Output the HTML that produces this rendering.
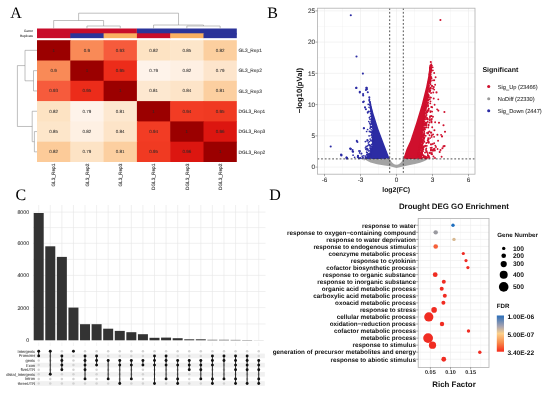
<!DOCTYPE html>
<html><head><meta charset="utf-8"><style>
html,body{margin:0;padding:0;background:#fff;}
body{width:550px;height:395px;overflow:hidden;font-family:"Liberation Sans",sans-serif;}
svg{display:block;will-change:transform;}
text{text-rendering:geometricPrecision;}
</style></head><body>
<svg width="550" height="395" viewBox="0 0 550 395">
<rect width="550" height="395" fill="#fff"/>
<text x="10.3" y="18.2" font-family="Liberation Serif" font-size="16" fill="#000" text-anchor="start" >A</text>
<text x="267.3" y="18.3" font-family="Liberation Serif" font-size="16" fill="#000" text-anchor="start" >B</text>
<text x="15.6" y="199.8" font-family="Liberation Serif" font-size="16" fill="#000" text-anchor="start" >C</text>
<text x="269.3" y="199.9" font-family="Liberation Serif" font-size="16" fill="#000" text-anchor="start" >D</text>
<rect x="37" y="40.2" width="33.9" height="20.9" fill="#9b0000" />
<rect x="70.3" y="40.2" width="33.9" height="20.9" fill="#f98a57" />
<rect x="103.6" y="40.2" width="33.9" height="20.9" fill="#f65b3c" />
<rect x="136.9" y="40.2" width="33.9" height="20.9" fill="#fde3c3" />
<rect x="170.2" y="40.2" width="33.9" height="20.9" fill="#fde6ca" />
<rect x="203.5" y="40.2" width="33.3" height="20.9" fill="#fccf9f" />
<rect x="37" y="60.5" width="33.9" height="20.9" fill="#f98a57" />
<rect x="70.3" y="60.5" width="33.9" height="20.9" fill="#9b0000" />
<rect x="103.6" y="60.5" width="33.9" height="20.9" fill="#ec2c1a" />
<rect x="136.9" y="60.5" width="33.9" height="20.9" fill="#fef3ea" />
<rect x="170.2" y="60.5" width="33.9" height="20.9" fill="#fef0e3" />
<rect x="203.5" y="60.5" width="33.3" height="20.9" fill="#fde5cc" />
<rect x="37" y="80.8" width="33.9" height="20.9" fill="#f65b3c" />
<rect x="70.3" y="80.8" width="33.9" height="20.9" fill="#ec2c1a" />
<rect x="103.6" y="80.8" width="33.9" height="20.9" fill="#9b0000" />
<rect x="136.9" y="80.8" width="33.9" height="20.9" fill="#fde8d0" />
<rect x="170.2" y="80.8" width="33.9" height="20.9" fill="#fde4c8" />
<rect x="203.5" y="80.8" width="33.3" height="20.9" fill="#fccfa0" />
<rect x="37" y="101.1" width="33.9" height="20.9" fill="#fde3c3" />
<rect x="70.3" y="101.1" width="33.9" height="20.9" fill="#fef3ea" />
<rect x="103.6" y="101.1" width="33.9" height="20.9" fill="#fde8d0" />
<rect x="136.9" y="101.1" width="33.9" height="20.9" fill="#9b0000" />
<rect x="170.2" y="101.1" width="33.9" height="20.9" fill="#f23c24" />
<rect x="203.5" y="101.1" width="33.3" height="20.9" fill="#f03a22" />
<rect x="37" y="121.4" width="33.9" height="20.9" fill="#fde6ca" />
<rect x="70.3" y="121.4" width="33.9" height="20.9" fill="#fef0e3" />
<rect x="103.6" y="121.4" width="33.9" height="20.9" fill="#fde4c8" />
<rect x="136.9" y="121.4" width="33.9" height="20.9" fill="#f23c24" />
<rect x="170.2" y="121.4" width="33.9" height="20.9" fill="#9b0000" />
<rect x="203.5" y="121.4" width="33.3" height="20.9" fill="#dc1610" />
<rect x="37" y="141.7" width="33.9" height="20.3" fill="#fccb99" />
<rect x="70.3" y="141.7" width="33.9" height="20.3" fill="#fde3c5" />
<rect x="103.6" y="141.7" width="33.9" height="20.3" fill="#fccfa0" />
<rect x="136.9" y="141.7" width="33.9" height="20.3" fill="#f03a22" />
<rect x="170.2" y="141.7" width="33.9" height="20.3" fill="#dc1610" />
<rect x="203.5" y="141.7" width="33.3" height="20.3" fill="#9b0000" />
<text x="53.65" y="51.7" font-family="Liberation Sans" font-size="4.5" fill="#2a2a2a" text-anchor="middle"  stroke="#2a2a2a" stroke-width="0.03">1</text>
<text x="86.95" y="51.7" font-family="Liberation Sans" font-size="4.5" fill="#2a2a2a" text-anchor="middle"  stroke="#2a2a2a" stroke-width="0.03">0.9</text>
<text x="120.25" y="51.7" font-family="Liberation Sans" font-size="4.5" fill="#2a2a2a" text-anchor="middle"  stroke="#2a2a2a" stroke-width="0.03">0.93</text>
<text x="153.55" y="51.7" font-family="Liberation Sans" font-size="4.5" fill="#2a2a2a" text-anchor="middle"  stroke="#2a2a2a" stroke-width="0.03">0.82</text>
<text x="186.85" y="51.7" font-family="Liberation Sans" font-size="4.5" fill="#2a2a2a" text-anchor="middle"  stroke="#2a2a2a" stroke-width="0.03">0.85</text>
<text x="220.15" y="51.7" font-family="Liberation Sans" font-size="4.5" fill="#2a2a2a" text-anchor="middle"  stroke="#2a2a2a" stroke-width="0.03">0.82</text>
<text x="53.65" y="72" font-family="Liberation Sans" font-size="4.5" fill="#2a2a2a" text-anchor="middle"  stroke="#2a2a2a" stroke-width="0.03">0.9</text>
<text x="86.95" y="72" font-family="Liberation Sans" font-size="4.5" fill="#2a2a2a" text-anchor="middle"  stroke="#2a2a2a" stroke-width="0.03">1</text>
<text x="120.25" y="72" font-family="Liberation Sans" font-size="4.5" fill="#2a2a2a" text-anchor="middle"  stroke="#2a2a2a" stroke-width="0.03">0.95</text>
<text x="153.55" y="72" font-family="Liberation Sans" font-size="4.5" fill="#2a2a2a" text-anchor="middle"  stroke="#2a2a2a" stroke-width="0.03">0.79</text>
<text x="186.85" y="72" font-family="Liberation Sans" font-size="4.5" fill="#2a2a2a" text-anchor="middle"  stroke="#2a2a2a" stroke-width="0.03">0.82</text>
<text x="220.15" y="72" font-family="Liberation Sans" font-size="4.5" fill="#2a2a2a" text-anchor="middle"  stroke="#2a2a2a" stroke-width="0.03">0.79</text>
<text x="53.65" y="92.3" font-family="Liberation Sans" font-size="4.5" fill="#2a2a2a" text-anchor="middle"  stroke="#2a2a2a" stroke-width="0.03">0.93</text>
<text x="86.95" y="92.3" font-family="Liberation Sans" font-size="4.5" fill="#2a2a2a" text-anchor="middle"  stroke="#2a2a2a" stroke-width="0.03">0.95</text>
<text x="120.25" y="92.3" font-family="Liberation Sans" font-size="4.5" fill="#2a2a2a" text-anchor="middle"  stroke="#2a2a2a" stroke-width="0.03">1</text>
<text x="153.55" y="92.3" font-family="Liberation Sans" font-size="4.5" fill="#2a2a2a" text-anchor="middle"  stroke="#2a2a2a" stroke-width="0.03">0.81</text>
<text x="186.85" y="92.3" font-family="Liberation Sans" font-size="4.5" fill="#2a2a2a" text-anchor="middle"  stroke="#2a2a2a" stroke-width="0.03">0.84</text>
<text x="220.15" y="92.3" font-family="Liberation Sans" font-size="4.5" fill="#2a2a2a" text-anchor="middle"  stroke="#2a2a2a" stroke-width="0.03">0.81</text>
<text x="53.65" y="112.6" font-family="Liberation Sans" font-size="4.5" fill="#2a2a2a" text-anchor="middle"  stroke="#2a2a2a" stroke-width="0.03">0.82</text>
<text x="86.95" y="112.6" font-family="Liberation Sans" font-size="4.5" fill="#2a2a2a" text-anchor="middle"  stroke="#2a2a2a" stroke-width="0.03">0.79</text>
<text x="120.25" y="112.6" font-family="Liberation Sans" font-size="4.5" fill="#2a2a2a" text-anchor="middle"  stroke="#2a2a2a" stroke-width="0.03">0.81</text>
<text x="153.55" y="112.6" font-family="Liberation Sans" font-size="4.5" fill="#2a2a2a" text-anchor="middle"  stroke="#2a2a2a" stroke-width="0.03">1</text>
<text x="186.85" y="112.6" font-family="Liberation Sans" font-size="4.5" fill="#2a2a2a" text-anchor="middle"  stroke="#2a2a2a" stroke-width="0.03">0.94</text>
<text x="220.15" y="112.6" font-family="Liberation Sans" font-size="4.5" fill="#2a2a2a" text-anchor="middle"  stroke="#2a2a2a" stroke-width="0.03">0.95</text>
<text x="53.65" y="132.9" font-family="Liberation Sans" font-size="4.5" fill="#2a2a2a" text-anchor="middle"  stroke="#2a2a2a" stroke-width="0.03">0.85</text>
<text x="86.95" y="132.9" font-family="Liberation Sans" font-size="4.5" fill="#2a2a2a" text-anchor="middle"  stroke="#2a2a2a" stroke-width="0.03">0.82</text>
<text x="120.25" y="132.9" font-family="Liberation Sans" font-size="4.5" fill="#2a2a2a" text-anchor="middle"  stroke="#2a2a2a" stroke-width="0.03">0.84</text>
<text x="153.55" y="132.9" font-family="Liberation Sans" font-size="4.5" fill="#2a2a2a" text-anchor="middle"  stroke="#2a2a2a" stroke-width="0.03">0.94</text>
<text x="186.85" y="132.9" font-family="Liberation Sans" font-size="4.5" fill="#2a2a2a" text-anchor="middle"  stroke="#2a2a2a" stroke-width="0.03">1</text>
<text x="220.15" y="132.9" font-family="Liberation Sans" font-size="4.5" fill="#2a2a2a" text-anchor="middle"  stroke="#2a2a2a" stroke-width="0.03">0.96</text>
<text x="53.65" y="153.2" font-family="Liberation Sans" font-size="4.5" fill="#2a2a2a" text-anchor="middle"  stroke="#2a2a2a" stroke-width="0.03">0.82</text>
<text x="86.95" y="153.2" font-family="Liberation Sans" font-size="4.5" fill="#2a2a2a" text-anchor="middle"  stroke="#2a2a2a" stroke-width="0.03">0.79</text>
<text x="120.25" y="153.2" font-family="Liberation Sans" font-size="4.5" fill="#2a2a2a" text-anchor="middle"  stroke="#2a2a2a" stroke-width="0.03">0.81</text>
<text x="153.55" y="153.2" font-family="Liberation Sans" font-size="4.5" fill="#2a2a2a" text-anchor="middle"  stroke="#2a2a2a" stroke-width="0.03">0.95</text>
<text x="186.85" y="153.2" font-family="Liberation Sans" font-size="4.5" fill="#2a2a2a" text-anchor="middle"  stroke="#2a2a2a" stroke-width="0.03">0.96</text>
<text x="220.15" y="153.2" font-family="Liberation Sans" font-size="4.5" fill="#2a2a2a" text-anchor="middle"  stroke="#2a2a2a" stroke-width="0.03">1</text>
<text x="238.6" y="52" font-family="Liberation Sans" font-size="4.8" fill="#333" text-anchor="start"  stroke="#333" stroke-width="0.07">GL3_Rep1</text>
<text x="238.6" y="72.3" font-family="Liberation Sans" font-size="4.8" fill="#333" text-anchor="start"  stroke="#333" stroke-width="0.07">GL3_Rep2</text>
<text x="238.6" y="92.6" font-family="Liberation Sans" font-size="4.8" fill="#333" text-anchor="start"  stroke="#333" stroke-width="0.07">GL3_Rep3</text>
<text x="238.6" y="112.9" font-family="Liberation Sans" font-size="4.8" fill="#333" text-anchor="start"  stroke="#333" stroke-width="0.07">DGL3_Rep1</text>
<text x="238.6" y="133.2" font-family="Liberation Sans" font-size="4.8" fill="#333" text-anchor="start"  stroke="#333" stroke-width="0.07">DGL3_Rep3</text>
<text x="238.6" y="153.5" font-family="Liberation Sans" font-size="4.8" fill="#333" text-anchor="start"  stroke="#333" stroke-width="0.07">DGL3_Rep2</text>
<text transform="translate(55.35,163.6) rotate(-90)" font-family="Liberation Sans" font-size="4.75" fill="#333" stroke="#333" stroke-width="0.12" text-anchor="end">GL3_Rep1</text>
<text transform="translate(88.65,163.6) rotate(-90)" font-family="Liberation Sans" font-size="4.75" fill="#333" stroke="#333" stroke-width="0.12" text-anchor="end">GL3_Rep2</text>
<text transform="translate(121.95,163.6) rotate(-90)" font-family="Liberation Sans" font-size="4.75" fill="#333" stroke="#333" stroke-width="0.12" text-anchor="end">GL3_Rep3</text>
<text transform="translate(155.25,163.6) rotate(-90)" font-family="Liberation Sans" font-size="4.75" fill="#333" stroke="#333" stroke-width="0.12" text-anchor="end">DGL3_Rep1</text>
<text transform="translate(188.55,163.6) rotate(-90)" font-family="Liberation Sans" font-size="4.75" fill="#333" stroke="#333" stroke-width="0.12" text-anchor="end">DGL3_Rep3</text>
<text transform="translate(221.85,163.6) rotate(-90)" font-family="Liberation Sans" font-size="4.75" fill="#333" stroke="#333" stroke-width="0.12" text-anchor="end">DGL3_Rep2</text>
<rect x="37" y="28.5" width="99.9" height="6" fill="#c80c2a" />
<rect x="136.9" y="28.5" width="99.9" height="6" fill="#2b3399" />
<rect x="37" y="33.3" width="33.9" height="4.85" fill="#c80c2a" />
<rect x="70.3" y="33.3" width="33.9" height="4.85" fill="#2b3399" />
<rect x="103.6" y="33.3" width="33.9" height="4.85" fill="#f9b061" />
<rect x="136.9" y="33.3" width="33.9" height="4.85" fill="#c80c2a" />
<rect x="170.2" y="33.3" width="33.9" height="4.85" fill="#f9b061" />
<rect x="203.5" y="33.3" width="33.3" height="4.85" fill="#2b3399" />
<text x="33" y="31.9" font-family="Liberation Sans" font-size="3.1" fill="#333" text-anchor="end"  stroke="#333" stroke-width="0.05">Factor</text>
<text x="33" y="37" font-family="Liberation Sans" font-size="3.1" fill="#333" text-anchor="end"  stroke="#333" stroke-width="0.05">Replicate</text>
<line x1="78.62" y1="13.2" x2="178.52" y2="13.2" stroke="#8c8c8c" stroke-width="0.55" />
<line x1="78.62" y1="13.2" x2="78.62" y2="20.5" stroke="#8c8c8c" stroke-width="0.55" />
<line x1="178.52" y1="13.2" x2="178.52" y2="25" stroke="#8c8c8c" stroke-width="0.55" />
<line x1="53.65" y1="20.5" x2="103.6" y2="20.5" stroke="#8c8c8c" stroke-width="0.55" />
<line x1="53.65" y1="20.5" x2="53.65" y2="28.5" stroke="#8c8c8c" stroke-width="0.55" />
<line x1="103.6" y1="20.5" x2="103.6" y2="26" stroke="#8c8c8c" stroke-width="0.55" />
<line x1="86.95" y1="26" x2="120.25" y2="26" stroke="#8c8c8c" stroke-width="0.55" />
<line x1="86.95" y1="26" x2="86.95" y2="28.5" stroke="#8c8c8c" stroke-width="0.55" />
<line x1="120.25" y1="26" x2="120.25" y2="28.5" stroke="#8c8c8c" stroke-width="0.55" />
<line x1="153.55" y1="25" x2="203.5" y2="25" stroke="#8c8c8c" stroke-width="0.55" />
<line x1="153.55" y1="25" x2="153.55" y2="28.5" stroke="#8c8c8c" stroke-width="0.55" />
<line x1="203.5" y1="25" x2="203.5" y2="26" stroke="#8c8c8c" stroke-width="0.55" />
<line x1="186.85" y1="26" x2="220.15" y2="26" stroke="#8c8c8c" stroke-width="0.55" />
<line x1="186.85" y1="26" x2="186.85" y2="28.5" stroke="#8c8c8c" stroke-width="0.55" />
<line x1="220.15" y1="26" x2="220.15" y2="28.5" stroke="#8c8c8c" stroke-width="0.55" />
<line x1="17.4" y1="65.58" x2="17.4" y2="126.48" stroke="#8c8c8c" stroke-width="0.55" />
<line x1="17.4" y1="65.58" x2="25" y2="65.58" stroke="#8c8c8c" stroke-width="0.55" />
<line x1="17.4" y1="126.48" x2="32.2" y2="126.48" stroke="#8c8c8c" stroke-width="0.55" />
<line x1="25" y1="50.35" x2="25" y2="80.8" stroke="#8c8c8c" stroke-width="0.55" />
<line x1="25" y1="50.35" x2="37" y2="50.35" stroke="#8c8c8c" stroke-width="0.55" />
<line x1="25" y1="80.8" x2="33.5" y2="80.8" stroke="#8c8c8c" stroke-width="0.55" />
<line x1="33.5" y1="70.65" x2="33.5" y2="90.95" stroke="#8c8c8c" stroke-width="0.55" />
<line x1="33.5" y1="70.65" x2="37" y2="70.65" stroke="#8c8c8c" stroke-width="0.55" />
<line x1="33.5" y1="90.95" x2="37" y2="90.95" stroke="#8c8c8c" stroke-width="0.55" />
<line x1="32.2" y1="111.25" x2="32.2" y2="141.7" stroke="#8c8c8c" stroke-width="0.55" />
<line x1="32.2" y1="111.25" x2="37" y2="111.25" stroke="#8c8c8c" stroke-width="0.55" />
<line x1="32.2" y1="141.7" x2="34.4" y2="141.7" stroke="#8c8c8c" stroke-width="0.55" />
<line x1="34.4" y1="131.55" x2="34.4" y2="151.85" stroke="#8c8c8c" stroke-width="0.55" />
<line x1="34.4" y1="131.55" x2="37" y2="131.55" stroke="#8c8c8c" stroke-width="0.55" />
<line x1="34.4" y1="151.85" x2="37" y2="151.85" stroke="#8c8c8c" stroke-width="0.55" />
<rect x="317.4" y="8.2" width="157.6" height="166" fill="#fff"/>
<line x1="342.5" y1="8.2" x2="342.5" y2="174.2" stroke="#ebebeb" stroke-width="0.3" />
<line x1="378.5" y1="8.2" x2="378.5" y2="174.2" stroke="#ebebeb" stroke-width="0.3" />
<line x1="414.5" y1="8.2" x2="414.5" y2="174.2" stroke="#ebebeb" stroke-width="0.3" />
<line x1="450.5" y1="8.2" x2="450.5" y2="174.2" stroke="#ebebeb" stroke-width="0.3" />
<line x1="317.4" y1="151.47" x2="475" y2="151.47" stroke="#ebebeb" stroke-width="0.3" />
<line x1="317.4" y1="120.22" x2="475" y2="120.22" stroke="#ebebeb" stroke-width="0.3" />
<line x1="317.4" y1="88.97" x2="475" y2="88.97" stroke="#ebebeb" stroke-width="0.3" />
<line x1="317.4" y1="57.72" x2="475" y2="57.72" stroke="#ebebeb" stroke-width="0.3" />
<line x1="317.4" y1="26.47" x2="475" y2="26.47" stroke="#ebebeb" stroke-width="0.3" />
<line x1="324.5" y1="8.2" x2="324.5" y2="174.2" stroke="#ebebeb" stroke-width="0.6" />
<line x1="360.5" y1="8.2" x2="360.5" y2="174.2" stroke="#ebebeb" stroke-width="0.6" />
<line x1="396.5" y1="8.2" x2="396.5" y2="174.2" stroke="#ebebeb" stroke-width="0.6" />
<line x1="432.5" y1="8.2" x2="432.5" y2="174.2" stroke="#ebebeb" stroke-width="0.6" />
<line x1="468.5" y1="8.2" x2="468.5" y2="174.2" stroke="#ebebeb" stroke-width="0.6" />
<line x1="317.4" y1="167.1" x2="475" y2="167.1" stroke="#ebebeb" stroke-width="0.6" />
<line x1="317.4" y1="135.85" x2="475" y2="135.85" stroke="#ebebeb" stroke-width="0.6" />
<line x1="317.4" y1="104.6" x2="475" y2="104.6" stroke="#ebebeb" stroke-width="0.6" />
<line x1="317.4" y1="73.35" x2="475" y2="73.35" stroke="#ebebeb" stroke-width="0.6" />
<line x1="317.4" y1="42.1" x2="475" y2="42.1" stroke="#ebebeb" stroke-width="0.6" />
<line x1="317.4" y1="10.85" x2="475" y2="10.85" stroke="#ebebeb" stroke-width="0.6" />
<path d="M365,159.2 L389.8,159.2 Q396.5,170.5 403.2,159.2 L428,159.2 L424,161.2 L420,162.8 L415,164 L410,165 L403,166.5 L396.5,167.9 L390,166.3 L384.6,165.4 L377,164.2 L370.5,162.6 L367.5,161.0 Z" fill="#a3a3a3"/>
<path d="M403.2,158.9 L406.5,149 L410.2,140.9 L416.2,122.7 L421.7,104.5 L426.2,86.4 L429.8,68.2 L431.8,62 L431.8,62 L430,80 L427.5,100 L424.2,120 L421.8,140 L419,155 L418.5,158.9 Z" fill="#cf102d"/>
<path d="M390.2,158.9 L389.1,157.2 L384,143.9 L378.3,128.7 L373.5,113.5 L369.7,99.3 L368.9,96.5 L368.9,96.5 L369.8,105 L371.3,115 L372.4,128 L372.6,144 L369.5,158.9 Z" fill="#2c2ca4"/>
<circle cx="421.15" cy="140.98" r="0.95" fill="#cf102d" />
<circle cx="425.01" cy="108.93" r="0.95" fill="#cf102d" />
<circle cx="424.28" cy="121.43" r="0.95" fill="#cf102d" />
<circle cx="421.61" cy="156.99" r="0.95" fill="#cf102d" />
<circle cx="420.75" cy="157.62" r="0.95" fill="#cf102d" />
<circle cx="418.14" cy="156.56" r="0.95" fill="#cf102d" />
<circle cx="428.34" cy="132.3" r="0.95" fill="#cf102d" />
<circle cx="419.34" cy="154.21" r="0.95" fill="#cf102d" />
<circle cx="432.09" cy="111.58" r="0.95" fill="#cf102d" />
<circle cx="424.96" cy="117.09" r="0.95" fill="#cf102d" />
<circle cx="430.08" cy="67.63" r="0.95" fill="#cf102d" />
<circle cx="428.82" cy="83.53" r="0.95" fill="#cf102d" />
<circle cx="418.83" cy="153.15" r="0.95" fill="#cf102d" />
<circle cx="427.96" cy="142.19" r="0.95" fill="#cf102d" />
<circle cx="423.12" cy="151.08" r="0.95" fill="#cf102d" />
<circle cx="425.78" cy="110.29" r="0.95" fill="#cf102d" />
<circle cx="423.18" cy="120.19" r="0.95" fill="#cf102d" />
<circle cx="418.87" cy="156.93" r="0.95" fill="#cf102d" />
<circle cx="426.66" cy="105.54" r="0.95" fill="#cf102d" />
<circle cx="424.29" cy="141.75" r="0.95" fill="#cf102d" />
<circle cx="423.17" cy="129.62" r="0.95" fill="#cf102d" />
<circle cx="429.32" cy="91.75" r="0.95" fill="#cf102d" />
<circle cx="423.52" cy="146.96" r="0.95" fill="#cf102d" />
<circle cx="429.46" cy="122.52" r="0.95" fill="#cf102d" />
<circle cx="427.01" cy="99.74" r="0.95" fill="#cf102d" />
<circle cx="430.21" cy="67.08" r="0.95" fill="#cf102d" />
<circle cx="427.01" cy="132.89" r="0.95" fill="#cf102d" />
<circle cx="421.84" cy="152.73" r="0.95" fill="#cf102d" />
<circle cx="423.85" cy="157.57" r="0.95" fill="#cf102d" />
<circle cx="428.41" cy="95.46" r="0.95" fill="#cf102d" />
<circle cx="429.12" cy="81.3" r="0.95" fill="#cf102d" />
<circle cx="427.66" cy="103.8" r="0.95" fill="#cf102d" />
<circle cx="425.3" cy="116.79" r="0.95" fill="#cf102d" />
<circle cx="432.21" cy="85.94" r="0.95" fill="#cf102d" />
<circle cx="425.99" cy="127.61" r="0.95" fill="#cf102d" />
<circle cx="424.48" cy="156.9" r="0.95" fill="#cf102d" />
<circle cx="437.13" cy="109.37" r="0.95" fill="#cf102d" />
<circle cx="428.28" cy="88.26" r="0.95" fill="#cf102d" />
<circle cx="425.67" cy="135.78" r="0.95" fill="#cf102d" />
<circle cx="421.02" cy="157.98" r="0.95" fill="#cf102d" />
<circle cx="419.06" cy="151.82" r="0.95" fill="#cf102d" />
<circle cx="425.93" cy="156.95" r="0.95" fill="#cf102d" />
<circle cx="419.56" cy="153.93" r="0.95" fill="#cf102d" />
<circle cx="429.56" cy="135.32" r="0.95" fill="#cf102d" />
<circle cx="421.03" cy="156.15" r="0.95" fill="#cf102d" />
<circle cx="429.65" cy="120.02" r="0.95" fill="#cf102d" />
<circle cx="430.78" cy="88.59" r="0.95" fill="#cf102d" />
<circle cx="422.32" cy="144.49" r="0.95" fill="#cf102d" />
<circle cx="430.08" cy="138.1" r="0.95" fill="#cf102d" />
<circle cx="429.94" cy="70.2" r="0.95" fill="#cf102d" />
<circle cx="419.88" cy="151.35" r="0.95" fill="#cf102d" />
<circle cx="422.48" cy="147.71" r="0.95" fill="#cf102d" />
<circle cx="424.56" cy="115.8" r="0.95" fill="#cf102d" />
<circle cx="420.55" cy="158.28" r="0.95" fill="#cf102d" />
<circle cx="424.47" cy="137.21" r="0.95" fill="#cf102d" />
<circle cx="430.9" cy="70.84" r="0.95" fill="#cf102d" />
<circle cx="425.76" cy="123.51" r="0.95" fill="#cf102d" />
<circle cx="425.43" cy="106.03" r="0.95" fill="#cf102d" />
<circle cx="430.78" cy="78.1" r="0.95" fill="#cf102d" />
<circle cx="430.67" cy="81.43" r="0.95" fill="#cf102d" />
<circle cx="423.26" cy="135.2" r="0.95" fill="#cf102d" />
<circle cx="423.4" cy="155.17" r="0.95" fill="#cf102d" />
<circle cx="417.96" cy="156.84" r="0.95" fill="#cf102d" />
<circle cx="419.77" cy="149.33" r="0.95" fill="#cf102d" />
<circle cx="420.88" cy="139.66" r="0.95" fill="#cf102d" />
<circle cx="418.34" cy="158.3" r="0.95" fill="#cf102d" />
<circle cx="420.3" cy="155.26" r="0.95" fill="#cf102d" />
<circle cx="429.48" cy="157.92" r="0.95" fill="#cf102d" />
<circle cx="424.58" cy="113.07" r="0.95" fill="#cf102d" />
<circle cx="421.5" cy="146.39" r="0.95" fill="#cf102d" />
<circle cx="421.44" cy="137.64" r="0.95" fill="#cf102d" />
<circle cx="435.13" cy="84.77" r="0.95" fill="#cf102d" />
<circle cx="424.39" cy="128.4" r="0.95" fill="#cf102d" />
<circle cx="418.29" cy="155.93" r="0.95" fill="#cf102d" />
<circle cx="422.02" cy="139.45" r="0.95" fill="#cf102d" />
<circle cx="428.14" cy="87.37" r="0.95" fill="#cf102d" />
<circle cx="434.96" cy="157.97" r="0.95" fill="#cf102d" />
<circle cx="423.25" cy="122.21" r="0.95" fill="#cf102d" />
<circle cx="423.01" cy="120.67" r="0.95" fill="#cf102d" />
<circle cx="435.14" cy="122.22" r="0.95" fill="#cf102d" />
<circle cx="430.02" cy="82.9" r="0.95" fill="#cf102d" />
<circle cx="421.74" cy="145.76" r="0.95" fill="#cf102d" />
<circle cx="426.25" cy="151.88" r="0.95" fill="#cf102d" />
<circle cx="427.63" cy="121.76" r="0.95" fill="#cf102d" />
<circle cx="421.63" cy="140.51" r="0.95" fill="#cf102d" />
<circle cx="434.18" cy="89.58" r="0.95" fill="#cf102d" />
<circle cx="430.52" cy="84.29" r="0.95" fill="#cf102d" />
<circle cx="429.78" cy="88.71" r="0.95" fill="#cf102d" />
<circle cx="422.75" cy="148.15" r="0.95" fill="#cf102d" />
<circle cx="420.92" cy="138.37" r="0.95" fill="#cf102d" />
<circle cx="419.34" cy="157.86" r="0.95" fill="#cf102d" />
<circle cx="425.24" cy="145.9" r="0.95" fill="#cf102d" />
<circle cx="430.36" cy="70.36" r="0.95" fill="#cf102d" />
<circle cx="434.16" cy="73.04" r="0.95" fill="#cf102d" />
<circle cx="430.2" cy="70.57" r="0.95" fill="#cf102d" />
<circle cx="420.3" cy="148.57" r="0.95" fill="#cf102d" />
<circle cx="419.9" cy="150.1" r="0.95" fill="#cf102d" />
<circle cx="430.39" cy="111.96" r="0.95" fill="#cf102d" />
<circle cx="429" cy="85.88" r="0.95" fill="#cf102d" />
<circle cx="428.81" cy="108.7" r="0.95" fill="#cf102d" />
<circle cx="423.78" cy="155.98" r="0.95" fill="#cf102d" />
<circle cx="430.87" cy="76.73" r="0.95" fill="#cf102d" />
<circle cx="427.87" cy="97.23" r="0.95" fill="#cf102d" />
<circle cx="426.72" cy="151.21" r="0.95" fill="#cf102d" />
<circle cx="427.73" cy="140.28" r="0.95" fill="#cf102d" />
<circle cx="430.46" cy="68.27" r="0.95" fill="#cf102d" />
<circle cx="433.1" cy="134.4" r="0.95" fill="#cf102d" />
<circle cx="426.63" cy="100.3" r="0.95" fill="#cf102d" />
<circle cx="418.88" cy="154.04" r="0.95" fill="#cf102d" />
<circle cx="430.97" cy="77.39" r="0.95" fill="#cf102d" />
<circle cx="427.66" cy="153.05" r="0.95" fill="#cf102d" />
<circle cx="431.1" cy="67.06" r="0.95" fill="#cf102d" />
<circle cx="424.2" cy="138.8" r="0.95" fill="#cf102d" />
<circle cx="418.09" cy="153.84" r="0.95" fill="#cf102d" />
<circle cx="430.97" cy="68.37" r="0.95" fill="#cf102d" />
<circle cx="431.51" cy="122.38" r="0.95" fill="#cf102d" />
<circle cx="429.49" cy="131.44" r="0.95" fill="#cf102d" />
<circle cx="428.19" cy="87.71" r="0.95" fill="#cf102d" />
<circle cx="421.1" cy="146.42" r="0.95" fill="#cf102d" />
<circle cx="423.64" cy="147.21" r="0.95" fill="#cf102d" />
<circle cx="422.14" cy="145.88" r="0.95" fill="#cf102d" />
<circle cx="431.22" cy="153.84" r="0.95" fill="#cf102d" />
<circle cx="423.43" cy="138.52" r="0.95" fill="#cf102d" />
<circle cx="430.36" cy="116.42" r="0.95" fill="#cf102d" />
<circle cx="431.25" cy="132.66" r="0.95" fill="#cf102d" />
<circle cx="424.99" cy="124.9" r="0.95" fill="#cf102d" />
<circle cx="422.74" cy="122.69" r="0.95" fill="#cf102d" />
<circle cx="422.46" cy="130.85" r="0.95" fill="#cf102d" />
<circle cx="426.76" cy="158.28" r="0.95" fill="#cf102d" />
<circle cx="421.84" cy="151.57" r="0.95" fill="#cf102d" />
<circle cx="427.91" cy="100.25" r="0.95" fill="#cf102d" />
<circle cx="423.73" cy="140.8" r="0.95" fill="#cf102d" />
<circle cx="427.79" cy="119.39" r="0.95" fill="#cf102d" />
<circle cx="422.38" cy="155.05" r="0.95" fill="#cf102d" />
<circle cx="420.95" cy="146.66" r="0.95" fill="#cf102d" />
<circle cx="428.24" cy="94.51" r="0.95" fill="#cf102d" />
<circle cx="427.52" cy="118.73" r="0.95" fill="#cf102d" />
<circle cx="429.83" cy="76.37" r="0.95" fill="#cf102d" />
<circle cx="426.02" cy="113.24" r="0.95" fill="#cf102d" />
<circle cx="426.47" cy="123.85" r="0.95" fill="#cf102d" />
<circle cx="424.66" cy="129.7" r="0.95" fill="#cf102d" />
<circle cx="432.21" cy="127.23" r="0.95" fill="#cf102d" />
<circle cx="430.3" cy="103.34" r="0.95" fill="#cf102d" />
<circle cx="429.88" cy="72.33" r="0.95" fill="#cf102d" />
<circle cx="431.88" cy="118.96" r="0.95" fill="#cf102d" />
<circle cx="428.27" cy="85.93" r="0.95" fill="#cf102d" />
<circle cx="421.15" cy="154.31" r="0.95" fill="#cf102d" />
<circle cx="419.18" cy="156.46" r="0.95" fill="#cf102d" />
<circle cx="423.92" cy="156.44" r="0.95" fill="#cf102d" />
<circle cx="431.05" cy="93.05" r="0.95" fill="#cf102d" />
<circle cx="425.03" cy="152.59" r="0.95" fill="#cf102d" />
<circle cx="425.37" cy="107.87" r="0.95" fill="#cf102d" />
<circle cx="433.04" cy="80.33" r="0.95" fill="#cf102d" />
<circle cx="434.45" cy="148.63" r="0.95" fill="#cf102d" />
<circle cx="423.94" cy="134.67" r="0.95" fill="#cf102d" />
<circle cx="431.88" cy="65.72" r="0.95" fill="#cf102d" />
<circle cx="421.34" cy="152.2" r="0.95" fill="#cf102d" />
<circle cx="423.95" cy="123.5" r="0.95" fill="#cf102d" />
<circle cx="420.69" cy="150.16" r="0.95" fill="#cf102d" />
<circle cx="426.24" cy="100.61" r="0.95" fill="#cf102d" />
<circle cx="424.86" cy="119.53" r="0.95" fill="#cf102d" />
<circle cx="419.75" cy="158.07" r="0.95" fill="#cf102d" />
<circle cx="426.21" cy="111.97" r="0.95" fill="#cf102d" />
<circle cx="441.62" cy="156.77" r="0.95" fill="#cf102d" />
<circle cx="433.25" cy="92.5" r="0.95" fill="#cf102d" />
<circle cx="419.51" cy="155.11" r="0.95" fill="#cf102d" />
<circle cx="426.2" cy="157.56" r="0.95" fill="#cf102d" />
<circle cx="420.32" cy="145.08" r="0.95" fill="#cf102d" />
<circle cx="430.96" cy="132.51" r="0.95" fill="#cf102d" />
<circle cx="428.18" cy="88.63" r="0.95" fill="#cf102d" />
<circle cx="431.79" cy="152.87" r="0.95" fill="#cf102d" />
<circle cx="426.94" cy="117.78" r="0.95" fill="#cf102d" />
<circle cx="418.03" cy="155.78" r="0.95" fill="#cf102d" />
<circle cx="426.78" cy="104.63" r="0.95" fill="#cf102d" />
<circle cx="433.47" cy="156.47" r="0.95" fill="#cf102d" />
<circle cx="428.67" cy="110.8" r="0.95" fill="#cf102d" />
<circle cx="428.64" cy="156.02" r="0.95" fill="#cf102d" />
<circle cx="428.93" cy="156.68" r="0.95" fill="#cf102d" />
<circle cx="423.39" cy="129.57" r="0.95" fill="#cf102d" />
<circle cx="431.09" cy="119.64" r="0.95" fill="#cf102d" />
<circle cx="420.28" cy="145.27" r="0.95" fill="#cf102d" />
<circle cx="423.6" cy="122.35" r="0.95" fill="#cf102d" />
<circle cx="418.8" cy="154.9" r="0.95" fill="#cf102d" />
<circle cx="418.81" cy="157.24" r="0.95" fill="#cf102d" />
<circle cx="421.9" cy="141.92" r="0.95" fill="#cf102d" />
<circle cx="427.42" cy="96.08" r="0.95" fill="#cf102d" />
<circle cx="423.06" cy="125.06" r="0.95" fill="#cf102d" />
<circle cx="420.79" cy="139.09" r="0.95" fill="#cf102d" />
<circle cx="419.46" cy="146.52" r="0.95" fill="#cf102d" />
<circle cx="427.98" cy="99.3" r="0.95" fill="#cf102d" />
<circle cx="421.99" cy="150.55" r="0.95" fill="#cf102d" />
<circle cx="429.58" cy="73.36" r="0.95" fill="#cf102d" />
<circle cx="428.59" cy="88.64" r="0.95" fill="#cf102d" />
<circle cx="428.53" cy="125.56" r="0.95" fill="#cf102d" />
<circle cx="424.07" cy="135.13" r="0.95" fill="#cf102d" />
<circle cx="434.6" cy="104.69" r="0.95" fill="#cf102d" />
<circle cx="428.5" cy="139.44" r="0.95" fill="#cf102d" />
<circle cx="428.05" cy="102.45" r="0.95" fill="#cf102d" />
<circle cx="423.02" cy="134.1" r="0.95" fill="#cf102d" />
<circle cx="418.33" cy="157.11" r="0.95" fill="#cf102d" />
<circle cx="425.3" cy="156.53" r="0.95" fill="#cf102d" />
<circle cx="420.32" cy="146.15" r="0.95" fill="#cf102d" />
<circle cx="428.08" cy="155.99" r="0.95" fill="#cf102d" />
<circle cx="430" cy="81.95" r="0.95" fill="#cf102d" />
<circle cx="421.12" cy="144.23" r="0.95" fill="#cf102d" />
<circle cx="422.84" cy="143.39" r="0.95" fill="#cf102d" />
<circle cx="421.45" cy="152.42" r="0.95" fill="#cf102d" />
<circle cx="435.36" cy="145.6" r="0.95" fill="#cf102d" />
<circle cx="430.75" cy="68.13" r="0.95" fill="#cf102d" />
<circle cx="435.97" cy="146.94" r="0.95" fill="#cf102d" />
<circle cx="422.23" cy="142.11" r="0.95" fill="#cf102d" />
<circle cx="420.19" cy="158.3" r="0.95" fill="#cf102d" />
<circle cx="424.59" cy="127.56" r="0.95" fill="#cf102d" />
<circle cx="422.39" cy="149.83" r="0.95" fill="#cf102d" />
<circle cx="419.17" cy="158.27" r="0.95" fill="#cf102d" />
<circle cx="420.58" cy="155.77" r="0.95" fill="#cf102d" />
<circle cx="417.61" cy="157.5" r="0.95" fill="#cf102d" />
<circle cx="421.35" cy="142.53" r="0.95" fill="#cf102d" />
<circle cx="425.79" cy="116.18" r="0.95" fill="#cf102d" />
<circle cx="428.67" cy="97.18" r="0.95" fill="#cf102d" />
<circle cx="430.47" cy="101.35" r="0.95" fill="#cf102d" />
<circle cx="422.77" cy="135.45" r="0.95" fill="#cf102d" />
<circle cx="430.31" cy="66.44" r="0.95" fill="#cf102d" />
<circle cx="428.33" cy="100.37" r="0.95" fill="#cf102d" />
<circle cx="427.9" cy="157.44" r="0.95" fill="#cf102d" />
<circle cx="430.08" cy="79.12" r="0.95" fill="#cf102d" />
<circle cx="429.71" cy="99.21" r="0.95" fill="#cf102d" />
<circle cx="422.14" cy="153.41" r="0.95" fill="#cf102d" />
<circle cx="428.54" cy="124.63" r="0.95" fill="#cf102d" />
<circle cx="430.3" cy="90.45" r="0.95" fill="#cf102d" />
<circle cx="430.03" cy="116.34" r="0.95" fill="#cf102d" />
<circle cx="428.12" cy="105.25" r="0.95" fill="#cf102d" />
<circle cx="419.28" cy="147.94" r="0.95" fill="#cf102d" />
<circle cx="420.48" cy="153.74" r="0.95" fill="#cf102d" />
<circle cx="427.87" cy="155.11" r="0.95" fill="#cf102d" />
<circle cx="426.16" cy="119.06" r="0.95" fill="#cf102d" />
<circle cx="427.35" cy="111.72" r="0.95" fill="#cf102d" />
<circle cx="422.28" cy="126.13" r="0.95" fill="#cf102d" />
<circle cx="429.64" cy="91.33" r="0.95" fill="#cf102d" />
<circle cx="425.03" cy="124.77" r="0.95" fill="#cf102d" />
<circle cx="425.15" cy="107.98" r="0.95" fill="#cf102d" />
<circle cx="427.01" cy="98.85" r="0.95" fill="#cf102d" />
<circle cx="419.38" cy="156.39" r="0.95" fill="#cf102d" />
<circle cx="426.79" cy="99.75" r="0.95" fill="#cf102d" />
<circle cx="433.73" cy="98.48" r="0.95" fill="#cf102d" />
<circle cx="423.98" cy="125.67" r="0.95" fill="#cf102d" />
<circle cx="426.22" cy="127.14" r="0.95" fill="#cf102d" />
<circle cx="428.63" cy="95.16" r="0.95" fill="#cf102d" />
<circle cx="424.88" cy="109.86" r="0.95" fill="#cf102d" />
<circle cx="419.76" cy="152.98" r="0.95" fill="#cf102d" />
<circle cx="427.24" cy="98.07" r="0.95" fill="#cf102d" />
<circle cx="423.35" cy="118.09" r="0.95" fill="#cf102d" />
<circle cx="419.35" cy="156.9" r="0.95" fill="#cf102d" />
<circle cx="427.98" cy="106.52" r="0.95" fill="#cf102d" />
<circle cx="426.09" cy="106.09" r="0.95" fill="#cf102d" />
<circle cx="424.66" cy="123.4" r="0.95" fill="#cf102d" />
<circle cx="422.45" cy="128.36" r="0.95" fill="#cf102d" />
<circle cx="429.18" cy="78.89" r="0.95" fill="#cf102d" />
<circle cx="432.67" cy="67.37" r="0.95" fill="#cf102d" />
<circle cx="420.98" cy="158.08" r="0.95" fill="#cf102d" />
<circle cx="433" cy="88.51" r="0.95" fill="#cf102d" />
<circle cx="422.97" cy="129.98" r="0.95" fill="#cf102d" />
<circle cx="433.78" cy="149.26" r="0.95" fill="#cf102d" />
<circle cx="423.34" cy="149.21" r="0.95" fill="#cf102d" />
<circle cx="422.16" cy="153.28" r="0.95" fill="#cf102d" />
<circle cx="429.86" cy="70.88" r="0.95" fill="#cf102d" />
<circle cx="428.83" cy="88.47" r="0.95" fill="#cf102d" />
<circle cx="430.32" cy="79.79" r="0.95" fill="#cf102d" />
<circle cx="430.56" cy="147.84" r="0.95" fill="#cf102d" />
<circle cx="422.32" cy="126.44" r="0.95" fill="#cf102d" />
<circle cx="421.33" cy="158.28" r="0.95" fill="#cf102d" />
<circle cx="423.16" cy="129.85" r="0.95" fill="#cf102d" />
<circle cx="420.4" cy="153.34" r="0.95" fill="#cf102d" />
<circle cx="428.64" cy="141.6" r="0.95" fill="#cf102d" />
<circle cx="425.49" cy="158.29" r="0.95" fill="#cf102d" />
<circle cx="428.23" cy="86.05" r="0.95" fill="#cf102d" />
<circle cx="430.71" cy="74.48" r="0.95" fill="#cf102d" />
<circle cx="429.42" cy="77.83" r="0.95" fill="#cf102d" />
<circle cx="423.07" cy="136.95" r="0.95" fill="#cf102d" />
<circle cx="431.17" cy="64.47" r="0.95" fill="#cf102d" />
<circle cx="423.24" cy="137.94" r="0.95" fill="#cf102d" />
<circle cx="419.95" cy="144.73" r="0.95" fill="#cf102d" />
<circle cx="427.84" cy="155.25" r="0.95" fill="#cf102d" />
<circle cx="432.8" cy="143.95" r="0.95" fill="#cf102d" />
<circle cx="420.89" cy="146.6" r="0.95" fill="#cf102d" />
<circle cx="423.23" cy="123.97" r="0.95" fill="#cf102d" />
<circle cx="434.12" cy="136.86" r="0.95" fill="#cf102d" />
<circle cx="430.86" cy="80.14" r="0.95" fill="#cf102d" />
<circle cx="430.78" cy="111.2" r="0.95" fill="#cf102d" />
<circle cx="430.38" cy="72.54" r="0.95" fill="#cf102d" />
<circle cx="426.25" cy="100.92" r="0.95" fill="#cf102d" />
<circle cx="427.57" cy="99.39" r="0.95" fill="#cf102d" />
<circle cx="428.62" cy="96.92" r="0.95" fill="#cf102d" />
<circle cx="420.11" cy="143.91" r="0.95" fill="#cf102d" />
<circle cx="429.5" cy="74.43" r="0.95" fill="#cf102d" />
<circle cx="423.57" cy="127.8" r="0.95" fill="#cf102d" />
<circle cx="426.28" cy="143.03" r="0.95" fill="#cf102d" />
<circle cx="430.32" cy="67.62" r="0.95" fill="#cf102d" />
<circle cx="425.79" cy="108.36" r="0.95" fill="#cf102d" />
<circle cx="424.66" cy="119.19" r="0.95" fill="#cf102d" />
<circle cx="419.32" cy="151.87" r="0.95" fill="#cf102d" />
<circle cx="430.98" cy="149.39" r="0.95" fill="#cf102d" />
<circle cx="423.21" cy="125.36" r="0.95" fill="#cf102d" />
<circle cx="435.62" cy="77.2" r="0.95" fill="#cf102d" />
<circle cx="422.37" cy="129.93" r="0.95" fill="#cf102d" />
<circle cx="419.16" cy="150.37" r="0.95" fill="#cf102d" />
<circle cx="421.08" cy="139.5" r="0.95" fill="#cf102d" />
<circle cx="420.72" cy="147.31" r="0.95" fill="#cf102d" />
<circle cx="429.83" cy="117.89" r="0.95" fill="#cf102d" />
<circle cx="427.65" cy="97.29" r="0.95" fill="#cf102d" />
<circle cx="424.34" cy="133.27" r="0.95" fill="#cf102d" />
<circle cx="422.74" cy="136.55" r="0.95" fill="#cf102d" />
<circle cx="419.42" cy="156.85" r="0.95" fill="#cf102d" />
<circle cx="430.05" cy="68.82" r="0.95" fill="#cf102d" />
<circle cx="425.8" cy="124.73" r="0.95" fill="#cf102d" />
<circle cx="428.75" cy="82.96" r="0.95" fill="#cf102d" />
<circle cx="421.03" cy="145.04" r="0.95" fill="#cf102d" />
<circle cx="423.64" cy="134.54" r="0.95" fill="#cf102d" />
<circle cx="431.63" cy="70.72" r="0.95" fill="#cf102d" />
<circle cx="428.62" cy="81.64" r="0.95" fill="#cf102d" />
<circle cx="424.61" cy="157.76" r="0.95" fill="#cf102d" />
<circle cx="429.71" cy="78.62" r="0.95" fill="#cf102d" />
<circle cx="423.66" cy="116.01" r="0.95" fill="#cf102d" />
<circle cx="431.87" cy="135.27" r="0.95" fill="#cf102d" />
<circle cx="430.73" cy="87.79" r="0.95" fill="#cf102d" />
<circle cx="430.26" cy="68.19" r="0.95" fill="#cf102d" />
<circle cx="418.75" cy="154.92" r="0.95" fill="#cf102d" />
<circle cx="426.41" cy="122.81" r="0.95" fill="#cf102d" />
<circle cx="430.89" cy="72.43" r="0.95" fill="#cf102d" />
<circle cx="428.36" cy="109.34" r="0.95" fill="#cf102d" />
<circle cx="424.84" cy="129.23" r="0.95" fill="#cf102d" />
<circle cx="426.29" cy="157.56" r="0.95" fill="#cf102d" />
<circle cx="431.79" cy="147.76" r="0.95" fill="#cf102d" />
<circle cx="425.63" cy="109.55" r="0.95" fill="#cf102d" />
<circle cx="419.58" cy="154" r="0.95" fill="#cf102d" />
<circle cx="427.62" cy="110.59" r="0.95" fill="#cf102d" />
<circle cx="418.25" cy="154.77" r="0.95" fill="#cf102d" />
<circle cx="425.53" cy="122.6" r="0.95" fill="#cf102d" />
<circle cx="422.17" cy="135.57" r="0.95" fill="#cf102d" />
<circle cx="423.94" cy="114.5" r="0.95" fill="#cf102d" />
<circle cx="422.95" cy="142.74" r="0.95" fill="#cf102d" />
<circle cx="430.82" cy="70.03" r="0.95" fill="#cf102d" />
<circle cx="429.58" cy="80.2" r="0.95" fill="#cf102d" />
<circle cx="420.6" cy="147.61" r="0.95" fill="#cf102d" />
<circle cx="431.03" cy="69.8" r="0.95" fill="#cf102d" />
<circle cx="420.28" cy="142.28" r="0.95" fill="#cf102d" />
<circle cx="426.21" cy="125.23" r="0.95" fill="#cf102d" />
<circle cx="422.64" cy="132.71" r="0.95" fill="#cf102d" />
<circle cx="431.27" cy="107.05" r="0.95" fill="#cf102d" />
<circle cx="419.25" cy="148.15" r="0.95" fill="#cf102d" />
<circle cx="423.03" cy="139.82" r="0.95" fill="#cf102d" />
<circle cx="425.93" cy="105.29" r="0.95" fill="#cf102d" />
<circle cx="429.58" cy="91.41" r="0.95" fill="#cf102d" />
<circle cx="423.23" cy="124.58" r="0.95" fill="#cf102d" />
<circle cx="430.31" cy="68.52" r="0.95" fill="#cf102d" />
<circle cx="428.14" cy="88.5" r="0.95" fill="#cf102d" />
<circle cx="426.25" cy="148.5" r="0.95" fill="#cf102d" />
<circle cx="434.15" cy="143.24" r="0.95" fill="#cf102d" />
<circle cx="423.05" cy="125.49" r="0.95" fill="#cf102d" />
<circle cx="421.76" cy="148.38" r="0.95" fill="#cf102d" />
<circle cx="432.16" cy="107.29" r="0.95" fill="#cf102d" />
<circle cx="420.88" cy="153.04" r="0.95" fill="#cf102d" />
<circle cx="437.57" cy="149.06" r="0.95" fill="#cf102d" />
<circle cx="418.41" cy="153.27" r="0.95" fill="#cf102d" />
<circle cx="420.42" cy="156.91" r="0.95" fill="#cf102d" />
<circle cx="431.53" cy="78.29" r="0.95" fill="#cf102d" />
<circle cx="438.3" cy="99.34" r="0.95" fill="#cf102d" />
<circle cx="429.85" cy="73.78" r="0.95" fill="#cf102d" />
<circle cx="432.98" cy="150.79" r="0.95" fill="#cf102d" />
<circle cx="426.65" cy="97.7" r="0.95" fill="#cf102d" />
<circle cx="426.21" cy="107.39" r="0.95" fill="#cf102d" />
<circle cx="422.68" cy="136.81" r="0.95" fill="#cf102d" />
<circle cx="418.42" cy="151.75" r="0.95" fill="#cf102d" />
<circle cx="421.84" cy="144.39" r="0.95" fill="#cf102d" />
<circle cx="429.88" cy="70.5" r="0.95" fill="#cf102d" />
<circle cx="430.1" cy="69.29" r="0.95" fill="#cf102d" />
<circle cx="428.22" cy="138.28" r="0.95" fill="#cf102d" />
<circle cx="428.63" cy="88.24" r="0.95" fill="#cf102d" />
<circle cx="421.2" cy="157.27" r="0.95" fill="#cf102d" />
<circle cx="431.57" cy="136.91" r="0.95" fill="#cf102d" />
<circle cx="421.03" cy="150.33" r="0.95" fill="#cf102d" />
<circle cx="428.99" cy="78.44" r="0.95" fill="#cf102d" />
<circle cx="428.01" cy="133.55" r="0.95" fill="#cf102d" />
<circle cx="426.97" cy="95.2" r="0.95" fill="#cf102d" />
<circle cx="417.83" cy="157.69" r="0.95" fill="#cf102d" />
<circle cx="429.6" cy="75.34" r="0.95" fill="#cf102d" />
<circle cx="430.96" cy="97.58" r="0.95" fill="#cf102d" />
<circle cx="422.03" cy="139.74" r="0.95" fill="#cf102d" />
<circle cx="430.74" cy="70.2" r="0.95" fill="#cf102d" />
<circle cx="425.65" cy="145.68" r="0.95" fill="#cf102d" />
<circle cx="421.77" cy="141.56" r="0.95" fill="#cf102d" />
<circle cx="425.61" cy="158.28" r="0.95" fill="#cf102d" />
<circle cx="430.34" cy="75.83" r="0.95" fill="#cf102d" />
<circle cx="429.61" cy="72.19" r="0.95" fill="#cf102d" />
<circle cx="422.39" cy="147.67" r="0.95" fill="#cf102d" />
<circle cx="432.84" cy="70.33" r="0.95" fill="#cf102d" />
<circle cx="422.31" cy="135.71" r="0.95" fill="#cf102d" />
<circle cx="424.2" cy="131.8" r="0.95" fill="#cf102d" />
<circle cx="429.59" cy="74.25" r="0.95" fill="#cf102d" />
<circle cx="429.62" cy="90.71" r="0.95" fill="#cf102d" />
<circle cx="430.02" cy="88.15" r="0.95" fill="#cf102d" />
<circle cx="425.11" cy="113.82" r="0.95" fill="#cf102d" />
<circle cx="422.39" cy="141.32" r="0.95" fill="#cf102d" />
<circle cx="427.28" cy="93.27" r="0.95" fill="#cf102d" />
<circle cx="425.97" cy="150.06" r="0.95" fill="#cf102d" />
<circle cx="419.67" cy="146.74" r="0.95" fill="#cf102d" />
<circle cx="422.11" cy="157.71" r="0.95" fill="#cf102d" />
<circle cx="438.06" cy="140.82" r="0.95" fill="#cf102d" />
<circle cx="434.26" cy="80.24" r="0.95" fill="#cf102d" />
<circle cx="420" cy="145.48" r="0.95" fill="#cf102d" />
<circle cx="421.61" cy="155.49" r="0.95" fill="#cf102d" />
<circle cx="427.21" cy="102.09" r="0.95" fill="#cf102d" />
<circle cx="421.87" cy="147.65" r="0.95" fill="#cf102d" />
<circle cx="427.23" cy="112.38" r="0.95" fill="#cf102d" />
<circle cx="430.18" cy="97.49" r="0.95" fill="#cf102d" />
<circle cx="425.39" cy="107.39" r="0.95" fill="#cf102d" />
<circle cx="428.57" cy="85.82" r="0.95" fill="#cf102d" />
<circle cx="424.69" cy="118.18" r="0.95" fill="#cf102d" />
<circle cx="426.9" cy="98.7" r="0.95" fill="#cf102d" />
<circle cx="420.73" cy="146.73" r="0.95" fill="#cf102d" />
<circle cx="429.85" cy="152.66" r="0.95" fill="#cf102d" />
<circle cx="424.65" cy="116.96" r="0.95" fill="#cf102d" />
<circle cx="441.07" cy="134.87" r="0.95" fill="#cf102d" />
<circle cx="423.37" cy="124.33" r="0.95" fill="#cf102d" />
<circle cx="429.23" cy="89.97" r="0.95" fill="#cf102d" />
<circle cx="430.34" cy="65.57" r="0.95" fill="#cf102d" />
<circle cx="428.2" cy="127.55" r="0.95" fill="#cf102d" />
<circle cx="431.58" cy="85.86" r="0.95" fill="#cf102d" />
<circle cx="419.48" cy="157.54" r="0.95" fill="#cf102d" />
<circle cx="419.07" cy="154.43" r="0.95" fill="#cf102d" />
<circle cx="430.83" cy="68.09" r="0.95" fill="#cf102d" />
<circle cx="429.9" cy="73.97" r="0.95" fill="#cf102d" />
<circle cx="429.27" cy="82.53" r="0.95" fill="#cf102d" />
<circle cx="426.82" cy="145.84" r="0.95" fill="#cf102d" />
<circle cx="429.73" cy="71.85" r="0.95" fill="#cf102d" />
<circle cx="426.53" cy="115.03" r="0.95" fill="#cf102d" />
<circle cx="421.3" cy="148.76" r="0.95" fill="#cf102d" />
<circle cx="419.36" cy="153.3" r="0.95" fill="#cf102d" />
<circle cx="423.91" cy="146.2" r="0.95" fill="#cf102d" />
<circle cx="425.4" cy="108.85" r="0.95" fill="#cf102d" />
<circle cx="368.42" cy="158.28" r="0.85" fill="#2c2ca4" />
<circle cx="372.92" cy="128.46" r="0.85" fill="#2c2ca4" />
<circle cx="371.1" cy="150.92" r="0.85" fill="#2c2ca4" />
<circle cx="371.69" cy="118.57" r="0.85" fill="#2c2ca4" />
<circle cx="369.98" cy="157.88" r="0.85" fill="#2c2ca4" />
<circle cx="370.19" cy="147.01" r="0.85" fill="#2c2ca4" />
<circle cx="373.09" cy="131.49" r="0.85" fill="#2c2ca4" />
<circle cx="365.39" cy="155.99" r="0.85" fill="#2c2ca4" />
<circle cx="371.89" cy="146.26" r="0.85" fill="#2c2ca4" />
<circle cx="360.2" cy="151.11" r="0.85" fill="#2c2ca4" />
<circle cx="368.79" cy="150.91" r="0.85" fill="#2c2ca4" />
<circle cx="370.5" cy="148.9" r="0.85" fill="#2c2ca4" />
<circle cx="367.59" cy="112.16" r="0.85" fill="#2c2ca4" />
<circle cx="371.69" cy="148.58" r="0.85" fill="#2c2ca4" />
<circle cx="372.63" cy="124.41" r="0.85" fill="#2c2ca4" />
<circle cx="358.68" cy="158.29" r="0.85" fill="#2c2ca4" />
<circle cx="367.88" cy="145.51" r="0.85" fill="#2c2ca4" />
<circle cx="366.13" cy="146.44" r="0.85" fill="#2c2ca4" />
<circle cx="372.9" cy="143.42" r="0.85" fill="#2c2ca4" />
<circle cx="366.37" cy="158.27" r="0.85" fill="#2c2ca4" />
<circle cx="369.41" cy="131.38" r="0.85" fill="#2c2ca4" />
<circle cx="365.79" cy="157.53" r="0.85" fill="#2c2ca4" />
<circle cx="370.13" cy="148.24" r="0.85" fill="#2c2ca4" />
<circle cx="369.24" cy="156.42" r="0.85" fill="#2c2ca4" />
<circle cx="367.25" cy="139.73" r="0.85" fill="#2c2ca4" />
<circle cx="367.38" cy="157.19" r="0.85" fill="#2c2ca4" />
<circle cx="369.38" cy="117.71" r="0.85" fill="#2c2ca4" />
<circle cx="370.49" cy="155.07" r="0.85" fill="#2c2ca4" />
<circle cx="368.23" cy="104.31" r="0.85" fill="#2c2ca4" />
<circle cx="373.23" cy="142.13" r="0.85" fill="#2c2ca4" />
<circle cx="370.45" cy="106.04" r="0.85" fill="#2c2ca4" />
<circle cx="370.45" cy="108.25" r="0.85" fill="#2c2ca4" />
<circle cx="372.03" cy="115.9" r="0.85" fill="#2c2ca4" />
<circle cx="372.24" cy="119.42" r="0.85" fill="#2c2ca4" />
<circle cx="366.94" cy="146.54" r="0.85" fill="#2c2ca4" />
<circle cx="371.98" cy="115.47" r="0.85" fill="#2c2ca4" />
<circle cx="369" cy="154.43" r="0.85" fill="#2c2ca4" />
<circle cx="372.2" cy="139.94" r="0.85" fill="#2c2ca4" />
<circle cx="369.35" cy="156.92" r="0.85" fill="#2c2ca4" />
<circle cx="370.27" cy="124.68" r="0.85" fill="#2c2ca4" />
<circle cx="366.31" cy="158.11" r="0.85" fill="#2c2ca4" />
<circle cx="372.64" cy="121.91" r="0.85" fill="#2c2ca4" />
<circle cx="371.95" cy="114.63" r="0.85" fill="#2c2ca4" />
<circle cx="371.81" cy="134.41" r="0.85" fill="#2c2ca4" />
<circle cx="372.64" cy="132.4" r="0.85" fill="#2c2ca4" />
<circle cx="370.37" cy="145.71" r="0.85" fill="#2c2ca4" />
<circle cx="369.87" cy="145.4" r="0.85" fill="#2c2ca4" />
<circle cx="371.7" cy="144.23" r="0.85" fill="#2c2ca4" />
<circle cx="365.56" cy="158.23" r="0.85" fill="#2c2ca4" />
<circle cx="372.68" cy="141.72" r="0.85" fill="#2c2ca4" />
<circle cx="371.12" cy="121.38" r="0.85" fill="#2c2ca4" />
<circle cx="372.84" cy="143.57" r="0.85" fill="#2c2ca4" />
<circle cx="373.08" cy="142.7" r="0.85" fill="#2c2ca4" />
<circle cx="368.04" cy="156.81" r="0.85" fill="#2c2ca4" />
<circle cx="367.73" cy="157.49" r="0.85" fill="#2c2ca4" />
<circle cx="373.25" cy="140.43" r="0.85" fill="#2c2ca4" />
<circle cx="373.11" cy="131.7" r="0.85" fill="#2c2ca4" />
<circle cx="371.16" cy="123.96" r="0.85" fill="#2c2ca4" />
<circle cx="373.22" cy="140.35" r="0.85" fill="#2c2ca4" />
<circle cx="372.19" cy="140.83" r="0.85" fill="#2c2ca4" />
<circle cx="370.35" cy="103.5" r="0.85" fill="#2c2ca4" />
<circle cx="367.71" cy="112.85" r="0.85" fill="#2c2ca4" />
<circle cx="370.96" cy="124.07" r="0.85" fill="#2c2ca4" />
<circle cx="353.07" cy="155.17" r="0.85" fill="#2c2ca4" />
<circle cx="365.37" cy="141.57" r="0.85" fill="#2c2ca4" />
<circle cx="370.79" cy="107.06" r="0.85" fill="#2c2ca4" />
<circle cx="370.01" cy="119.19" r="0.85" fill="#2c2ca4" />
<circle cx="368.36" cy="157.86" r="0.85" fill="#2c2ca4" />
<circle cx="372.52" cy="122.02" r="0.85" fill="#2c2ca4" />
<circle cx="370.99" cy="109.01" r="0.85" fill="#2c2ca4" />
<circle cx="372.12" cy="116.72" r="0.85" fill="#2c2ca4" />
<circle cx="367.11" cy="140.93" r="0.85" fill="#2c2ca4" />
<circle cx="369.82" cy="154.74" r="0.85" fill="#2c2ca4" />
<circle cx="372.42" cy="140.7" r="0.85" fill="#2c2ca4" />
<circle cx="369.45" cy="158.14" r="0.85" fill="#2c2ca4" />
<circle cx="358.07" cy="156.05" r="0.85" fill="#2c2ca4" />
<circle cx="370.09" cy="128.36" r="0.85" fill="#2c2ca4" />
<circle cx="363.84" cy="155.86" r="0.85" fill="#2c2ca4" />
<circle cx="367.02" cy="157.08" r="0.85" fill="#2c2ca4" />
<circle cx="372.52" cy="131.71" r="0.85" fill="#2c2ca4" />
<circle cx="370.98" cy="111.32" r="0.85" fill="#2c2ca4" />
<circle cx="369.1" cy="135.79" r="0.85" fill="#2c2ca4" />
<circle cx="346.49" cy="157.27" r="0.85" fill="#2c2ca4" />
<circle cx="372.42" cy="132.2" r="0.85" fill="#2c2ca4" />
<circle cx="372.11" cy="118.36" r="0.85" fill="#2c2ca4" />
<circle cx="369.48" cy="99.32" r="0.85" fill="#2c2ca4" />
<circle cx="367.38" cy="148.75" r="0.85" fill="#2c2ca4" />
<circle cx="372.74" cy="144.48" r="0.85" fill="#2c2ca4" />
<circle cx="372.73" cy="123.1" r="0.85" fill="#2c2ca4" />
<circle cx="371.97" cy="116.34" r="0.85" fill="#2c2ca4" />
<circle cx="366.62" cy="131.49" r="0.85" fill="#2c2ca4" />
<circle cx="371.2" cy="135.38" r="0.85" fill="#2c2ca4" />
<circle cx="371.96" cy="150.9" r="0.85" fill="#2c2ca4" />
<circle cx="369.64" cy="158.17" r="0.85" fill="#2c2ca4" />
<circle cx="372.28" cy="133.21" r="0.85" fill="#2c2ca4" />
<circle cx="367.92" cy="140.28" r="0.85" fill="#2c2ca4" />
<circle cx="369.52" cy="156.73" r="0.85" fill="#2c2ca4" />
<circle cx="373.2" cy="130.43" r="0.85" fill="#2c2ca4" />
<circle cx="368.2" cy="158.3" r="0.85" fill="#2c2ca4" />
<circle cx="368.5" cy="157.24" r="0.85" fill="#2c2ca4" />
<circle cx="367.47" cy="154.23" r="0.85" fill="#2c2ca4" />
<circle cx="372.86" cy="135.15" r="0.85" fill="#2c2ca4" />
<circle cx="372.17" cy="132.63" r="0.85" fill="#2c2ca4" />
<circle cx="357.62" cy="156.67" r="0.85" fill="#2c2ca4" />
<circle cx="370.72" cy="153.58" r="0.85" fill="#2c2ca4" />
<circle cx="365.62" cy="157.42" r="0.85" fill="#2c2ca4" />
<circle cx="370.5" cy="111.48" r="0.85" fill="#2c2ca4" />
<circle cx="371.87" cy="146.67" r="0.85" fill="#2c2ca4" />
<circle cx="365.19" cy="158.28" r="0.85" fill="#2c2ca4" />
<circle cx="372.42" cy="137.01" r="0.85" fill="#2c2ca4" />
<circle cx="372.32" cy="131" r="0.85" fill="#2c2ca4" />
<circle cx="369.77" cy="104.92" r="0.85" fill="#2c2ca4" />
<circle cx="361.63" cy="153.41" r="0.85" fill="#2c2ca4" />
<circle cx="366.66" cy="158.08" r="0.85" fill="#2c2ca4" />
<circle cx="372.03" cy="146.46" r="0.85" fill="#2c2ca4" />
<circle cx="362.96" cy="157.94" r="0.85" fill="#2c2ca4" />
<circle cx="366.38" cy="158.28" r="0.85" fill="#2c2ca4" />
<circle cx="370.46" cy="104.53" r="0.85" fill="#2c2ca4" />
<circle cx="366.93" cy="155" r="0.85" fill="#2c2ca4" />
<circle cx="370.85" cy="140.64" r="0.85" fill="#2c2ca4" />
<circle cx="372.1" cy="116.93" r="0.85" fill="#2c2ca4" />
<circle cx="370.57" cy="151.04" r="0.85" fill="#2c2ca4" />
<circle cx="359.43" cy="158.04" r="0.85" fill="#2c2ca4" />
<circle cx="371.32" cy="119.67" r="0.85" fill="#2c2ca4" />
<circle cx="361" cy="158.29" r="0.85" fill="#2c2ca4" />
<circle cx="372.1" cy="122.96" r="0.85" fill="#2c2ca4" />
<circle cx="372.14" cy="123.26" r="0.85" fill="#2c2ca4" />
<circle cx="370.8" cy="154.18" r="0.85" fill="#2c2ca4" />
<circle cx="371.16" cy="153.96" r="0.85" fill="#2c2ca4" />
<circle cx="367.13" cy="149.9" r="0.85" fill="#2c2ca4" />
<circle cx="370.69" cy="127.12" r="0.85" fill="#2c2ca4" />
<circle cx="372.63" cy="125.77" r="0.85" fill="#2c2ca4" />
<circle cx="372.1" cy="137.59" r="0.85" fill="#2c2ca4" />
<circle cx="371.77" cy="119.18" r="0.85" fill="#2c2ca4" />
<circle cx="367.36" cy="152.79" r="0.85" fill="#2c2ca4" />
<circle cx="370.14" cy="102.01" r="0.85" fill="#2c2ca4" />
<circle cx="371.43" cy="110.63" r="0.85" fill="#2c2ca4" />
<circle cx="370.42" cy="152.98" r="0.85" fill="#2c2ca4" />
<circle cx="369.65" cy="123.07" r="0.85" fill="#2c2ca4" />
<circle cx="372.34" cy="122.88" r="0.85" fill="#2c2ca4" />
<circle cx="371.17" cy="110.62" r="0.85" fill="#2c2ca4" />
<circle cx="361.25" cy="153.73" r="0.85" fill="#2c2ca4" />
<circle cx="371.3" cy="132.13" r="0.85" fill="#2c2ca4" />
<circle cx="367.59" cy="129.49" r="0.85" fill="#2c2ca4" />
<circle cx="368.43" cy="142.92" r="0.85" fill="#2c2ca4" />
<circle cx="370.59" cy="126.92" r="0.85" fill="#2c2ca4" />
<circle cx="369.46" cy="144.77" r="0.85" fill="#2c2ca4" />
<circle cx="372.56" cy="136.46" r="0.85" fill="#2c2ca4" />
<circle cx="366.9" cy="154.62" r="0.85" fill="#2c2ca4" />
<circle cx="358.58" cy="157.69" r="0.85" fill="#2c2ca4" />
<circle cx="370.68" cy="156.45" r="0.85" fill="#2c2ca4" />
<circle cx="357.78" cy="157.23" r="0.85" fill="#2c2ca4" />
<circle cx="371.71" cy="149.47" r="0.85" fill="#2c2ca4" />
<circle cx="370.23" cy="158.2" r="0.85" fill="#2c2ca4" />
<circle cx="371.82" cy="127.32" r="0.85" fill="#2c2ca4" />
<circle cx="371.38" cy="126.97" r="0.85" fill="#2c2ca4" />
<circle cx="366.07" cy="157.85" r="0.85" fill="#2c2ca4" />
<circle cx="366.57" cy="148.6" r="0.85" fill="#2c2ca4" />
<circle cx="370.39" cy="116.36" r="0.85" fill="#2c2ca4" />
<circle cx="360.44" cy="157.85" r="0.85" fill="#2c2ca4" />
<circle cx="369.08" cy="107.23" r="0.85" fill="#2c2ca4" />
<circle cx="369.53" cy="157.22" r="0.85" fill="#2c2ca4" />
<circle cx="370.5" cy="157.13" r="0.85" fill="#2c2ca4" />
<circle cx="370.65" cy="113.73" r="0.85" fill="#2c2ca4" />
<circle cx="370.41" cy="131.87" r="0.85" fill="#2c2ca4" />
<circle cx="372.69" cy="132.07" r="0.85" fill="#2c2ca4" />
<circle cx="370.12" cy="157.35" r="0.85" fill="#2c2ca4" />
<circle cx="372.45" cy="121.92" r="0.85" fill="#2c2ca4" />
<circle cx="369.95" cy="150.62" r="0.85" fill="#2c2ca4" />
<circle cx="368.94" cy="158.24" r="0.85" fill="#2c2ca4" />
<circle cx="366.69" cy="152.13" r="0.85" fill="#2c2ca4" />
<circle cx="371.17" cy="148.38" r="0.85" fill="#2c2ca4" />
<circle cx="369.87" cy="102.13" r="0.85" fill="#2c2ca4" />
<circle cx="371.14" cy="113.39" r="0.85" fill="#2c2ca4" />
<circle cx="367.76" cy="158.18" r="0.85" fill="#2c2ca4" />
<circle cx="368.87" cy="144.81" r="0.85" fill="#2c2ca4" />
<circle cx="367.93" cy="149.38" r="0.85" fill="#2c2ca4" />
<circle cx="372.79" cy="138.65" r="0.85" fill="#2c2ca4" />
<circle cx="371.63" cy="112.35" r="0.85" fill="#2c2ca4" />
<circle cx="372.06" cy="116.34" r="0.85" fill="#2c2ca4" />
<circle cx="369.28" cy="158.3" r="0.85" fill="#2c2ca4" />
<circle cx="368.8" cy="121.5" r="0.85" fill="#2c2ca4" />
<circle cx="367.01" cy="158.3" r="0.85" fill="#2c2ca4" />
<circle cx="369.3" cy="141.59" r="0.85" fill="#2c2ca4" />
<circle cx="367.92" cy="155.44" r="0.85" fill="#2c2ca4" />
<circle cx="365.93" cy="149.36" r="0.85" fill="#2c2ca4" />
<circle cx="359.65" cy="152.97" r="0.85" fill="#2c2ca4" />
<circle cx="370.76" cy="152.09" r="0.85" fill="#2c2ca4" />
<circle cx="372.21" cy="126.77" r="0.85" fill="#2c2ca4" />
<circle cx="365.75" cy="157.17" r="0.85" fill="#2c2ca4" />
<circle cx="362.89" cy="157.65" r="0.85" fill="#2c2ca4" />
<circle cx="371.11" cy="126.96" r="0.85" fill="#2c2ca4" />
<circle cx="372.52" cy="132.33" r="0.85" fill="#2c2ca4" />
<circle cx="371.24" cy="146.7" r="0.85" fill="#2c2ca4" />
<circle cx="371.23" cy="109.61" r="0.85" fill="#2c2ca4" />
<circle cx="371.3" cy="109.81" r="0.85" fill="#2c2ca4" />
<circle cx="369.8" cy="154.8" r="0.85" fill="#2c2ca4" />
<circle cx="370.67" cy="108.54" r="0.85" fill="#2c2ca4" />
<circle cx="365.4" cy="147.82" r="0.85" fill="#2c2ca4" />
<circle cx="368.69" cy="153.92" r="0.85" fill="#2c2ca4" />
<circle cx="370.14" cy="139.06" r="0.85" fill="#2c2ca4" />
<circle cx="371.63" cy="122.29" r="0.85" fill="#2c2ca4" />
<circle cx="370.89" cy="149.3" r="0.85" fill="#2c2ca4" />
<circle cx="362.2" cy="156.2" r="0.85" fill="#2c2ca4" />
<circle cx="371.22" cy="129.74" r="0.85" fill="#2c2ca4" />
<circle cx="368.27" cy="155.84" r="0.85" fill="#2c2ca4" />
<circle cx="371.73" cy="120.52" r="0.85" fill="#2c2ca4" />
<circle cx="367.75" cy="156.86" r="0.85" fill="#2c2ca4" />
<circle cx="371.18" cy="110.13" r="0.85" fill="#2c2ca4" />
<circle cx="369.44" cy="155.24" r="0.85" fill="#2c2ca4" />
<circle cx="370.72" cy="126.47" r="0.85" fill="#2c2ca4" />
<circle cx="370.06" cy="156.22" r="0.85" fill="#2c2ca4" />
<circle cx="369.77" cy="153.44" r="0.85" fill="#2c2ca4" />
<circle cx="372.94" cy="139.67" r="0.85" fill="#2c2ca4" />
<circle cx="371.33" cy="150.23" r="0.85" fill="#2c2ca4" />
<circle cx="369.38" cy="100.96" r="0.85" fill="#2c2ca4" />
<circle cx="354.61" cy="157.32" r="0.85" fill="#2c2ca4" />
<circle cx="368.26" cy="157.32" r="0.85" fill="#2c2ca4" />
<circle cx="369.12" cy="100.03" r="0.85" fill="#2c2ca4" />
<circle cx="372.22" cy="123.97" r="0.85" fill="#2c2ca4" />
<circle cx="430.8" cy="62" r="1.05" fill="#cf102d" />
<circle cx="433.8" cy="87" r="1.05" fill="#cf102d" />
<circle cx="436.5" cy="92.4" r="1.05" fill="#cf102d" />
<circle cx="438.3" cy="110.6" r="1.05" fill="#cf102d" />
<circle cx="444.4" cy="112" r="1.05" fill="#cf102d" />
<circle cx="431.4" cy="116" r="1.05" fill="#cf102d" />
<circle cx="432.9" cy="116.7" r="1.05" fill="#cf102d" />
<circle cx="439" cy="122.7" r="1.05" fill="#cf102d" />
<circle cx="443.5" cy="125.2" r="1.05" fill="#cf102d" />
<circle cx="431.4" cy="121.2" r="1.05" fill="#cf102d" />
<circle cx="445" cy="131.8" r="1.05" fill="#cf102d" />
<circle cx="434.4" cy="130.3" r="1.05" fill="#cf102d" />
<circle cx="437.4" cy="134.8" r="1.05" fill="#cf102d" />
<circle cx="442" cy="136.4" r="1.05" fill="#cf102d" />
<circle cx="443.5" cy="146.4" r="1.05" fill="#cf102d" />
<circle cx="440.5" cy="150" r="1.05" fill="#cf102d" />
<circle cx="432.9" cy="150" r="1.05" fill="#cf102d" />
<circle cx="429.8" cy="153" r="1.05" fill="#cf102d" />
<circle cx="444.6" cy="146" r="1.05" fill="#cf102d" />
<circle cx="442.4" cy="148.2" r="1.05" fill="#cf102d" />
<circle cx="439.7" cy="152" r="1.05" fill="#cf102d" />
<circle cx="434.8" cy="150.4" r="1.05" fill="#cf102d" />
<circle cx="431" cy="150.4" r="1.05" fill="#cf102d" />
<circle cx="432" cy="154.2" r="1.05" fill="#cf102d" />
<circle cx="428.8" cy="142.7" r="1.05" fill="#cf102d" />
<circle cx="431" cy="144.4" r="1.05" fill="#cf102d" />
<circle cx="440.4" cy="20" r="1.05" fill="#cf102d" />
<circle cx="350.8" cy="15.3" r="1.05" fill="#2c2ca4" />
<circle cx="356.5" cy="56.5" r="1.05" fill="#2c2ca4" />
<circle cx="362.9" cy="73.6" r="1.05" fill="#2c2ca4" />
<circle cx="356.2" cy="87.9" r="1.05" fill="#2c2ca4" />
<circle cx="366.8" cy="87.9" r="1.05" fill="#2c2ca4" />
<circle cx="365.9" cy="90" r="1.05" fill="#2c2ca4" />
<circle cx="359.8" cy="92.4" r="1.05" fill="#2c2ca4" />
<circle cx="363.2" cy="95.5" r="1.05" fill="#2c2ca4" />
<circle cx="363.8" cy="101.5" r="1.05" fill="#2c2ca4" />
<circle cx="363.8" cy="128.2" r="1.05" fill="#2c2ca4" />
<circle cx="356.8" cy="140.9" r="1.05" fill="#2c2ca4" />
<circle cx="350.2" cy="148.5" r="1.05" fill="#2c2ca4" />
<circle cx="341.1" cy="154.5" r="1.05" fill="#2c2ca4" />
<circle cx="346.5" cy="157.6" r="1.05" fill="#2c2ca4" />
<circle cx="352.6" cy="150" r="1.05" fill="#2c2ca4" />
<circle cx="330.7" cy="146.5" r="1.05" fill="#2c2ca4" />
<circle cx="341.5" cy="155" r="1.05" fill="#2c2ca4" />
<circle cx="346.7" cy="158.4" r="1.05" fill="#2c2ca4" />
<circle cx="353.1" cy="151.8" r="1.05" fill="#2c2ca4" />
<circle cx="359.1" cy="151" r="1.05" fill="#2c2ca4" />
<circle cx="358" cy="155.9" r="1.05" fill="#2c2ca4" />
<circle cx="350.6" cy="149.1" r="1.05" fill="#2c2ca4" />
<circle cx="341.3" cy="155.4" r="1.05" fill="#2c2ca4" />
<circle cx="347.1" cy="158.3" r="1.05" fill="#2c2ca4" />
<circle cx="356.4" cy="87.9" r="1.05" fill="#2c2ca4" />
<circle cx="359.8" cy="91.7" r="1.05" fill="#2c2ca4" />
<circle cx="363.1" cy="94.1" r="1.05" fill="#2c2ca4" />
<circle cx="366.3" cy="87.9" r="1.05" fill="#2c2ca4" />
<circle cx="366.9" cy="89.2" r="1.05" fill="#2c2ca4" />
<circle cx="367.8" cy="92.2" r="1.05" fill="#2c2ca4" />
<circle cx="369.3" cy="97.4" r="1.05" fill="#2c2ca4" />
<circle cx="363.1" cy="102.1" r="1.05" fill="#2c2ca4" />
<circle cx="365" cy="107.4" r="1.05" fill="#2c2ca4" />
<circle cx="365.9" cy="109.3" r="1.05" fill="#2c2ca4" />
<circle cx="368.8" cy="111.6" r="1.05" fill="#2c2ca4" />
<circle cx="364" cy="128.3" r="1.05" fill="#2c2ca4" />
<circle cx="357.4" cy="142" r="1.05" fill="#2c2ca4" />
<circle cx="350.7" cy="148.7" r="1.05" fill="#2c2ca4" />
<circle cx="352.6" cy="151.5" r="1.05" fill="#2c2ca4" />
<circle cx="346.9" cy="158.2" r="1.05" fill="#2c2ca4" />
<circle cx="376.56" cy="159.69" r="0.7" fill="#a3a3a3" />
<circle cx="370.84" cy="159.09" r="0.7" fill="#a3a3a3" />
<circle cx="388.85" cy="158.85" r="0.7" fill="#a3a3a3" />
<circle cx="408.38" cy="159.5" r="0.7" fill="#a3a3a3" />
<circle cx="404.47" cy="159.45" r="0.7" fill="#a3a3a3" />
<circle cx="373.08" cy="159.65" r="0.7" fill="#a3a3a3" />
<circle cx="422.11" cy="159.4" r="0.7" fill="#a3a3a3" />
<circle cx="410.22" cy="160.03" r="0.7" fill="#a3a3a3" />
<circle cx="413.54" cy="159.78" r="0.7" fill="#a3a3a3" />
<circle cx="418.56" cy="159.75" r="0.7" fill="#a3a3a3" />
<circle cx="405.06" cy="159.44" r="0.7" fill="#a3a3a3" />
<circle cx="384.03" cy="159.68" r="0.7" fill="#a3a3a3" />
<circle cx="370.26" cy="159.39" r="0.7" fill="#a3a3a3" />
<circle cx="414.07" cy="159.8" r="0.7" fill="#a3a3a3" />
<circle cx="404.3" cy="159.15" r="0.7" fill="#a3a3a3" />
<circle cx="407.22" cy="160.1" r="0.7" fill="#a3a3a3" />
<circle cx="375.72" cy="159.72" r="0.7" fill="#a3a3a3" />
<circle cx="413.8" cy="159.34" r="0.7" fill="#a3a3a3" />
<circle cx="366.44" cy="159.56" r="0.7" fill="#a3a3a3" />
<circle cx="374.29" cy="159.89" r="0.7" fill="#a3a3a3" />
<circle cx="424.2" cy="159.53" r="0.7" fill="#a3a3a3" />
<circle cx="370.47" cy="159.6" r="0.7" fill="#a3a3a3" />
<circle cx="417.06" cy="159.53" r="0.7" fill="#a3a3a3" />
<circle cx="377.45" cy="159.76" r="0.7" fill="#a3a3a3" />
<circle cx="371.83" cy="160.18" r="0.7" fill="#a3a3a3" />
<circle cx="386.75" cy="158.88" r="0.7" fill="#a3a3a3" />
<circle cx="381.56" cy="159.36" r="0.7" fill="#a3a3a3" />
<circle cx="364.85" cy="159.39" r="0.7" fill="#a3a3a3" />
<circle cx="386.54" cy="159.17" r="0.7" fill="#a3a3a3" />
<circle cx="378.36" cy="159.84" r="0.7" fill="#a3a3a3" />
<circle cx="424.16" cy="159.54" r="0.7" fill="#a3a3a3" />
<circle cx="378.01" cy="159.92" r="0.7" fill="#a3a3a3" />
<circle cx="372.28" cy="159.89" r="0.7" fill="#a3a3a3" />
<circle cx="415.81" cy="159.69" r="0.7" fill="#a3a3a3" />
<circle cx="378.46" cy="160.15" r="0.7" fill="#a3a3a3" />
<circle cx="386.6" cy="159.69" r="0.7" fill="#a3a3a3" />
<circle cx="416.4" cy="159.94" r="0.7" fill="#a3a3a3" />
<circle cx="417.36" cy="159.3" r="0.7" fill="#a3a3a3" />
<circle cx="418.44" cy="159.17" r="0.7" fill="#a3a3a3" />
<circle cx="388.07" cy="159.15" r="0.7" fill="#a3a3a3" />
<circle cx="364.17" cy="159.81" r="0.7" fill="#a3a3a3" />
<circle cx="382" cy="159.14" r="0.7" fill="#a3a3a3" />
<circle cx="383.32" cy="159.47" r="0.7" fill="#a3a3a3" />
<line x1="389.7" y1="8.2" x2="389.7" y2="174.2" stroke="#333" stroke-width="0.85" stroke-dasharray="1.8,1.9"/>
<line x1="403.3" y1="8.2" x2="403.3" y2="174.2" stroke="#333" stroke-width="0.85" stroke-dasharray="1.8,1.9"/>
<line x1="317.4" y1="158.9" x2="475" y2="158.9" stroke="#333" stroke-width="0.85" stroke-dasharray="1.8,1.9"/>
<rect x="317.4" y="8.2" width="157.6" height="166" fill="none" stroke="#b0b0b0" stroke-width="0.8"/>
<line x1="315.4" y1="167.1" x2="317.4" y2="167.1" stroke="#555" stroke-width="0.5" />
<text x="315" y="169.4" font-family="Liberation Sans" font-size="6.4" fill="#3a3a3a" text-anchor="end"  stroke="#3a3a3a" stroke-width="0.1">0</text>
<line x1="315.4" y1="135.85" x2="317.4" y2="135.85" stroke="#555" stroke-width="0.5" />
<text x="315" y="138.15" font-family="Liberation Sans" font-size="6.4" fill="#3a3a3a" text-anchor="end"  stroke="#3a3a3a" stroke-width="0.1">5</text>
<line x1="315.4" y1="104.6" x2="317.4" y2="104.6" stroke="#555" stroke-width="0.5" />
<text x="315" y="106.9" font-family="Liberation Sans" font-size="6.4" fill="#3a3a3a" text-anchor="end"  stroke="#3a3a3a" stroke-width="0.1">10</text>
<line x1="315.4" y1="73.35" x2="317.4" y2="73.35" stroke="#555" stroke-width="0.5" />
<text x="315" y="75.65" font-family="Liberation Sans" font-size="6.4" fill="#3a3a3a" text-anchor="end"  stroke="#3a3a3a" stroke-width="0.1">15</text>
<line x1="315.4" y1="42.1" x2="317.4" y2="42.1" stroke="#555" stroke-width="0.5" />
<text x="315" y="44.4" font-family="Liberation Sans" font-size="6.4" fill="#3a3a3a" text-anchor="end"  stroke="#3a3a3a" stroke-width="0.1">20</text>
<line x1="315.4" y1="10.85" x2="317.4" y2="10.85" stroke="#555" stroke-width="0.5" />
<text x="315" y="13.15" font-family="Liberation Sans" font-size="6.4" fill="#3a3a3a" text-anchor="end"  stroke="#3a3a3a" stroke-width="0.1">25</text>
<line x1="324.5" y1="174.2" x2="324.5" y2="176.2" stroke="#555" stroke-width="0.5" />
<text x="324.5" y="181.9" font-family="Liberation Sans" font-size="6.4" fill="#3a3a3a" text-anchor="middle"  stroke="#3a3a3a" stroke-width="0.1">-6</text>
<line x1="360.5" y1="174.2" x2="360.5" y2="176.2" stroke="#555" stroke-width="0.5" />
<text x="360.5" y="181.9" font-family="Liberation Sans" font-size="6.4" fill="#3a3a3a" text-anchor="middle"  stroke="#3a3a3a" stroke-width="0.1">-3</text>
<line x1="396.5" y1="174.2" x2="396.5" y2="176.2" stroke="#555" stroke-width="0.5" />
<text x="396.5" y="181.9" font-family="Liberation Sans" font-size="6.4" fill="#3a3a3a" text-anchor="middle"  stroke="#3a3a3a" stroke-width="0.1">0</text>
<line x1="432.5" y1="174.2" x2="432.5" y2="176.2" stroke="#555" stroke-width="0.5" />
<text x="432.5" y="181.9" font-family="Liberation Sans" font-size="6.4" fill="#3a3a3a" text-anchor="middle"  stroke="#3a3a3a" stroke-width="0.1">3</text>
<line x1="468.5" y1="174.2" x2="468.5" y2="176.2" stroke="#555" stroke-width="0.5" />
<text x="468.5" y="181.9" font-family="Liberation Sans" font-size="6.4" fill="#3a3a3a" text-anchor="middle"  stroke="#3a3a3a" stroke-width="0.1">6</text>
<text x="396.2" y="192.4" font-family="Liberation Sans" font-size="6.9" fill="#111" text-anchor="middle" font-weight="bold" >log2(FC)</text>
<text transform="translate(302.4,90.6) rotate(-90)" font-family="Liberation Sans" font-size="7.7" font-weight="bold" fill="#111" text-anchor="middle">−log10(pVal)</text>
<text x="482.4" y="71.7" font-family="Liberation Sans" font-size="7.05" fill="#111" text-anchor="start" font-weight="bold" >Significant</text>
<circle cx="488.7" cy="86.5" r="1.55" fill="#cf102d" />
<text x="497.8" y="88.55" font-family="Liberation Sans" font-size="5.7" fill="#333" text-anchor="start"  stroke="#333" stroke-width="0.08">Sig_Up (23466)</text>
<circle cx="488.7" cy="98.7" r="1.55" fill="#9a9a9a" />
<text x="497.8" y="100.75" font-family="Liberation Sans" font-size="5.7" fill="#333" text-anchor="start"  stroke="#333" stroke-width="0.08">NoDiff (22330)</text>
<circle cx="488.7" cy="110.8" r="1.55" fill="#2c2ca4" />
<text x="497.8" y="112.85" font-family="Liberation Sans" font-size="5.7" fill="#333" text-anchor="start"  stroke="#333" stroke-width="0.08">Sig_Down (2447)</text>
<line x1="38.7" y1="205" x2="38.7" y2="340.3" stroke="#e6e6e6" stroke-width="0.6" />
<line x1="50.28" y1="205" x2="50.28" y2="340.3" stroke="#e6e6e6" stroke-width="0.6" />
<line x1="61.86" y1="205" x2="61.86" y2="340.3" stroke="#e6e6e6" stroke-width="0.6" />
<line x1="73.44" y1="205" x2="73.44" y2="340.3" stroke="#e6e6e6" stroke-width="0.6" />
<line x1="85.02" y1="205" x2="85.02" y2="340.3" stroke="#e6e6e6" stroke-width="0.6" />
<line x1="96.6" y1="205" x2="96.6" y2="340.3" stroke="#e6e6e6" stroke-width="0.6" />
<line x1="108.18" y1="205" x2="108.18" y2="340.3" stroke="#e6e6e6" stroke-width="0.6" />
<line x1="119.76" y1="205" x2="119.76" y2="340.3" stroke="#e6e6e6" stroke-width="0.6" />
<line x1="131.34" y1="205" x2="131.34" y2="340.3" stroke="#e6e6e6" stroke-width="0.6" />
<line x1="142.92" y1="205" x2="142.92" y2="340.3" stroke="#e6e6e6" stroke-width="0.6" />
<line x1="154.5" y1="205" x2="154.5" y2="340.3" stroke="#e6e6e6" stroke-width="0.6" />
<line x1="166.08" y1="205" x2="166.08" y2="340.3" stroke="#e6e6e6" stroke-width="0.6" />
<line x1="177.66" y1="205" x2="177.66" y2="340.3" stroke="#e6e6e6" stroke-width="0.6" />
<line x1="189.24" y1="205" x2="189.24" y2="340.3" stroke="#e6e6e6" stroke-width="0.6" />
<line x1="200.82" y1="205" x2="200.82" y2="340.3" stroke="#e6e6e6" stroke-width="0.6" />
<line x1="212.4" y1="205" x2="212.4" y2="340.3" stroke="#e6e6e6" stroke-width="0.6" />
<line x1="223.98" y1="205" x2="223.98" y2="340.3" stroke="#e6e6e6" stroke-width="0.6" />
<line x1="235.56" y1="205" x2="235.56" y2="340.3" stroke="#e6e6e6" stroke-width="0.6" />
<line x1="247.14" y1="205" x2="247.14" y2="340.3" stroke="#e6e6e6" stroke-width="0.6" />
<line x1="258.72" y1="205" x2="258.72" y2="340.3" stroke="#e6e6e6" stroke-width="0.6" />
<line x1="33" y1="212.1" x2="265.5" y2="212.1" stroke="#e6e6e6" stroke-width="0.6" />
<line x1="33" y1="227.6" x2="265.5" y2="227.6" stroke="#e6e6e6" stroke-width="0.6" />
<line x1="33" y1="243.3" x2="265.5" y2="243.3" stroke="#e6e6e6" stroke-width="0.6" />
<line x1="33" y1="259.4" x2="265.5" y2="259.4" stroke="#e6e6e6" stroke-width="0.6" />
<line x1="33" y1="275.4" x2="265.5" y2="275.4" stroke="#e6e6e6" stroke-width="0.6" />
<line x1="33" y1="291.5" x2="265.5" y2="291.5" stroke="#e6e6e6" stroke-width="0.6" />
<line x1="33" y1="307.6" x2="265.5" y2="307.6" stroke="#e6e6e6" stroke-width="0.6" />
<line x1="33" y1="324" x2="265.5" y2="324" stroke="#e6e6e6" stroke-width="0.6" />
<rect x="33.7" y="213" width="10" height="127.3" fill="#333333" />
<rect x="45.28" y="246.3" width="10" height="94" fill="#333333" />
<rect x="56.86" y="256.9" width="10" height="83.4" fill="#333333" />
<rect x="68.44" y="307.6" width="10" height="32.7" fill="#333333" />
<rect x="80.02" y="324.2" width="10" height="16.1" fill="#333333" />
<rect x="91.6" y="324.2" width="10" height="16.1" fill="#333333" />
<rect x="103.18" y="328.7" width="10" height="11.6" fill="#333333" />
<rect x="114.76" y="330.9" width="10" height="9.4" fill="#333333" />
<rect x="126.34" y="332.2" width="10" height="8.1" fill="#333333" />
<rect x="137.92" y="334.2" width="10" height="6.1" fill="#333333" />
<rect x="149.5" y="337.8" width="10" height="2.5" fill="#333333" />
<rect x="161.08" y="337.6" width="10" height="2.7" fill="#333333" />
<rect x="172.66" y="338.2" width="10" height="2.1" fill="#333333" />
<rect x="184.24" y="339.3" width="10" height="1" fill="#333333" />
<rect x="195.82" y="339.3" width="10" height="1" fill="#333333" />
<rect x="207.4" y="339.8" width="10" height="0.5" fill="#333333" />
<rect x="218.98" y="339.8" width="10" height="0.5" fill="#333333" />
<rect x="230.56" y="339.9" width="10" height="0.4" fill="#333333" />
<rect x="242.14" y="340" width="10" height="0.3" fill="#333333" />
<rect x="253.72" y="340" width="10" height="0.3" fill="#bbbbbb" />
<text x="29.2" y="214" font-family="Liberation Sans" font-size="5.3" fill="#444" text-anchor="end"  stroke="#444" stroke-width="0.12">8000</text>
<text x="29.2" y="245.2" font-family="Liberation Sans" font-size="5.3" fill="#444" text-anchor="end"  stroke="#444" stroke-width="0.12">6000</text>
<text x="29.2" y="277.3" font-family="Liberation Sans" font-size="5.3" fill="#444" text-anchor="end"  stroke="#444" stroke-width="0.12">4000</text>
<text x="29.2" y="309.5" font-family="Liberation Sans" font-size="5.3" fill="#444" text-anchor="end"  stroke="#444" stroke-width="0.12">2000</text>
<text x="29.2" y="342" font-family="Liberation Sans" font-size="5.3" fill="#444" text-anchor="end"  stroke="#444" stroke-width="0.12">0</text>
<line x1="38.7" y1="342.5" x2="38.7" y2="346" stroke="#e0e0e0" stroke-width="0.4" />
<line x1="50.28" y1="342.5" x2="50.28" y2="346" stroke="#e0e0e0" stroke-width="0.4" />
<line x1="61.86" y1="342.5" x2="61.86" y2="346" stroke="#e0e0e0" stroke-width="0.4" />
<line x1="73.44" y1="342.5" x2="73.44" y2="346" stroke="#e0e0e0" stroke-width="0.4" />
<line x1="85.02" y1="342.5" x2="85.02" y2="346" stroke="#e0e0e0" stroke-width="0.4" />
<line x1="96.6" y1="342.5" x2="96.6" y2="346" stroke="#e0e0e0" stroke-width="0.4" />
<line x1="108.18" y1="342.5" x2="108.18" y2="346" stroke="#e0e0e0" stroke-width="0.4" />
<line x1="119.76" y1="342.5" x2="119.76" y2="346" stroke="#e0e0e0" stroke-width="0.4" />
<line x1="131.34" y1="342.5" x2="131.34" y2="346" stroke="#e0e0e0" stroke-width="0.4" />
<line x1="142.92" y1="342.5" x2="142.92" y2="346" stroke="#e0e0e0" stroke-width="0.4" />
<line x1="154.5" y1="342.5" x2="154.5" y2="346" stroke="#e0e0e0" stroke-width="0.4" />
<line x1="166.08" y1="342.5" x2="166.08" y2="346" stroke="#e0e0e0" stroke-width="0.4" />
<line x1="177.66" y1="342.5" x2="177.66" y2="346" stroke="#e0e0e0" stroke-width="0.4" />
<line x1="189.24" y1="342.5" x2="189.24" y2="346" stroke="#e0e0e0" stroke-width="0.4" />
<line x1="200.82" y1="342.5" x2="200.82" y2="346" stroke="#e0e0e0" stroke-width="0.4" />
<line x1="212.4" y1="342.5" x2="212.4" y2="346" stroke="#e0e0e0" stroke-width="0.4" />
<line x1="223.98" y1="342.5" x2="223.98" y2="346" stroke="#e0e0e0" stroke-width="0.4" />
<line x1="235.56" y1="342.5" x2="235.56" y2="346" stroke="#e0e0e0" stroke-width="0.4" />
<line x1="247.14" y1="342.5" x2="247.14" y2="346" stroke="#e0e0e0" stroke-width="0.4" />
<line x1="258.72" y1="342.5" x2="258.72" y2="346" stroke="#e0e0e0" stroke-width="0.4" />
<rect x="33.5" y="353.6" width="231.3" height="4.6" fill="#f1f1f1" />
<rect x="33.5" y="362.8" width="231.3" height="4.6" fill="#f1f1f1" />
<rect x="33.5" y="372" width="231.3" height="4.6" fill="#f1f1f1" />
<rect x="33.5" y="381.2" width="231.3" height="4.6" fill="#f1f1f1" />
<text x="35.1" y="352.75" font-family="Liberation Sans" font-size="4" fill="#444" text-anchor="end"  stroke="#444" stroke-width="0.06">Intergenic</text>
<text x="35.1" y="357.35" font-family="Liberation Sans" font-size="4" fill="#444" text-anchor="end"  stroke="#444" stroke-width="0.06">Promoter</text>
<text x="35.1" y="361.95" font-family="Liberation Sans" font-size="4" fill="#444" text-anchor="end"  stroke="#444" stroke-width="0.06">genic</text>
<text x="35.1" y="366.55" font-family="Liberation Sans" font-size="4" fill="#444" text-anchor="end"  stroke="#444" stroke-width="0.06">Exon</text>
<text x="35.1" y="371.15" font-family="Liberation Sans" font-size="4" fill="#444" text-anchor="end"  stroke="#444" stroke-width="0.06">fiveUTR</text>
<text x="35.1" y="375.75" font-family="Liberation Sans" font-size="4" fill="#444" text-anchor="end"  stroke="#444" stroke-width="0.06">distal_intergenic</text>
<text x="35.1" y="380.35" font-family="Liberation Sans" font-size="4" fill="#444" text-anchor="end"  stroke="#444" stroke-width="0.06">Intron</text>
<text x="35.1" y="384.95" font-family="Liberation Sans" font-size="4" fill="#444" text-anchor="end"  stroke="#444" stroke-width="0.06">threeUTR</text>
<circle cx="38.7" cy="360.5" r="1.25" fill="#d2d2d2" />
<circle cx="38.7" cy="365.1" r="1.25" fill="#d2d2d2" />
<circle cx="38.7" cy="369.7" r="1.25" fill="#d2d2d2" />
<circle cx="38.7" cy="374.3" r="1.25" fill="#d2d2d2" />
<circle cx="38.7" cy="378.9" r="1.25" fill="#d2d2d2" />
<circle cx="38.7" cy="383.5" r="1.25" fill="#d2d2d2" />
<line x1="38.7" y1="351.3" x2="38.7" y2="355.9" stroke="#111" stroke-width="0.9" />
<circle cx="38.7" cy="351.3" r="1.45" fill="#111" />
<circle cx="38.7" cy="355.9" r="1.45" fill="#111" />
<circle cx="50.28" cy="355.9" r="1.25" fill="#d2d2d2" />
<circle cx="50.28" cy="360.5" r="1.25" fill="#d2d2d2" />
<circle cx="50.28" cy="365.1" r="1.25" fill="#d2d2d2" />
<circle cx="50.28" cy="369.7" r="1.25" fill="#d2d2d2" />
<circle cx="50.28" cy="378.9" r="1.25" fill="#d2d2d2" />
<circle cx="50.28" cy="383.5" r="1.25" fill="#d2d2d2" />
<line x1="50.28" y1="351.3" x2="50.28" y2="374.3" stroke="#111" stroke-width="0.9" />
<circle cx="50.28" cy="351.3" r="1.45" fill="#111" />
<circle cx="50.28" cy="374.3" r="1.45" fill="#111" />
<circle cx="61.86" cy="351.3" r="1.25" fill="#d2d2d2" />
<circle cx="61.86" cy="374.3" r="1.25" fill="#d2d2d2" />
<circle cx="61.86" cy="378.9" r="1.25" fill="#d2d2d2" />
<circle cx="61.86" cy="383.5" r="1.25" fill="#d2d2d2" />
<line x1="61.86" y1="355.9" x2="61.86" y2="369.7" stroke="#111" stroke-width="0.9" />
<circle cx="61.86" cy="355.9" r="1.45" fill="#111" />
<circle cx="61.86" cy="360.5" r="1.45" fill="#111" />
<circle cx="61.86" cy="365.1" r="1.45" fill="#111" />
<circle cx="61.86" cy="369.7" r="1.45" fill="#111" />
<circle cx="73.44" cy="355.9" r="1.25" fill="#d2d2d2" />
<circle cx="73.44" cy="360.5" r="1.25" fill="#d2d2d2" />
<circle cx="73.44" cy="365.1" r="1.25" fill="#d2d2d2" />
<circle cx="73.44" cy="369.7" r="1.25" fill="#d2d2d2" />
<circle cx="73.44" cy="374.3" r="1.25" fill="#d2d2d2" />
<circle cx="73.44" cy="378.9" r="1.25" fill="#d2d2d2" />
<circle cx="73.44" cy="383.5" r="1.25" fill="#d2d2d2" />
<circle cx="73.44" cy="351.3" r="1.45" fill="#111" />
<circle cx="85.02" cy="351.3" r="1.25" fill="#d2d2d2" />
<circle cx="85.02" cy="374.3" r="1.25" fill="#d2d2d2" />
<circle cx="85.02" cy="383.5" r="1.25" fill="#d2d2d2" />
<line x1="85.02" y1="355.9" x2="85.02" y2="378.9" stroke="#111" stroke-width="0.9" />
<circle cx="85.02" cy="355.9" r="1.45" fill="#111" />
<circle cx="85.02" cy="360.5" r="1.45" fill="#111" />
<circle cx="85.02" cy="365.1" r="1.45" fill="#111" />
<circle cx="85.02" cy="369.7" r="1.45" fill="#111" />
<circle cx="85.02" cy="378.9" r="1.45" fill="#111" />
<circle cx="96.6" cy="351.3" r="1.25" fill="#d2d2d2" />
<circle cx="96.6" cy="369.7" r="1.25" fill="#d2d2d2" />
<circle cx="96.6" cy="374.3" r="1.25" fill="#d2d2d2" />
<circle cx="96.6" cy="378.9" r="1.25" fill="#d2d2d2" />
<circle cx="96.6" cy="383.5" r="1.25" fill="#d2d2d2" />
<line x1="96.6" y1="355.9" x2="96.6" y2="365.1" stroke="#111" stroke-width="0.9" />
<circle cx="96.6" cy="355.9" r="1.45" fill="#111" />
<circle cx="96.6" cy="360.5" r="1.45" fill="#111" />
<circle cx="96.6" cy="365.1" r="1.45" fill="#111" />
<circle cx="108.18" cy="351.3" r="1.25" fill="#d2d2d2" />
<circle cx="108.18" cy="355.9" r="1.25" fill="#d2d2d2" />
<circle cx="108.18" cy="365.1" r="1.25" fill="#d2d2d2" />
<circle cx="108.18" cy="369.7" r="1.25" fill="#d2d2d2" />
<circle cx="108.18" cy="374.3" r="1.25" fill="#d2d2d2" />
<circle cx="108.18" cy="383.5" r="1.25" fill="#d2d2d2" />
<line x1="108.18" y1="360.5" x2="108.18" y2="378.9" stroke="#111" stroke-width="0.9" />
<circle cx="108.18" cy="360.5" r="1.45" fill="#111" />
<circle cx="108.18" cy="378.9" r="1.45" fill="#111" />
<circle cx="119.76" cy="351.3" r="1.25" fill="#d2d2d2" />
<circle cx="119.76" cy="355.9" r="1.25" fill="#d2d2d2" />
<circle cx="119.76" cy="369.7" r="1.25" fill="#d2d2d2" />
<circle cx="119.76" cy="374.3" r="1.25" fill="#d2d2d2" />
<circle cx="119.76" cy="378.9" r="1.25" fill="#d2d2d2" />
<line x1="119.76" y1="360.5" x2="119.76" y2="383.5" stroke="#111" stroke-width="0.9" />
<circle cx="119.76" cy="360.5" r="1.45" fill="#111" />
<circle cx="119.76" cy="365.1" r="1.45" fill="#111" />
<circle cx="119.76" cy="383.5" r="1.45" fill="#111" />
<circle cx="131.34" cy="351.3" r="1.25" fill="#d2d2d2" />
<circle cx="131.34" cy="355.9" r="1.25" fill="#d2d2d2" />
<circle cx="131.34" cy="369.7" r="1.25" fill="#d2d2d2" />
<circle cx="131.34" cy="374.3" r="1.25" fill="#d2d2d2" />
<circle cx="131.34" cy="383.5" r="1.25" fill="#d2d2d2" />
<line x1="131.34" y1="360.5" x2="131.34" y2="378.9" stroke="#111" stroke-width="0.9" />
<circle cx="131.34" cy="360.5" r="1.45" fill="#111" />
<circle cx="131.34" cy="365.1" r="1.45" fill="#111" />
<circle cx="131.34" cy="378.9" r="1.45" fill="#111" />
<circle cx="142.92" cy="351.3" r="1.25" fill="#d2d2d2" />
<circle cx="142.92" cy="355.9" r="1.25" fill="#d2d2d2" />
<circle cx="142.92" cy="369.7" r="1.25" fill="#d2d2d2" />
<circle cx="142.92" cy="374.3" r="1.25" fill="#d2d2d2" />
<circle cx="142.92" cy="378.9" r="1.25" fill="#d2d2d2" />
<circle cx="142.92" cy="383.5" r="1.25" fill="#d2d2d2" />
<line x1="142.92" y1="360.5" x2="142.92" y2="365.1" stroke="#111" stroke-width="0.9" />
<circle cx="142.92" cy="360.5" r="1.45" fill="#111" />
<circle cx="142.92" cy="365.1" r="1.45" fill="#111" />
<circle cx="154.5" cy="351.3" r="1.25" fill="#d2d2d2" />
<circle cx="154.5" cy="369.7" r="1.25" fill="#d2d2d2" />
<circle cx="154.5" cy="374.3" r="1.25" fill="#d2d2d2" />
<circle cx="154.5" cy="378.9" r="1.25" fill="#d2d2d2" />
<line x1="154.5" y1="355.9" x2="154.5" y2="383.5" stroke="#111" stroke-width="0.9" />
<circle cx="154.5" cy="355.9" r="1.45" fill="#111" />
<circle cx="154.5" cy="360.5" r="1.45" fill="#111" />
<circle cx="154.5" cy="365.1" r="1.45" fill="#111" />
<circle cx="154.5" cy="383.5" r="1.45" fill="#111" />
<circle cx="166.08" cy="351.3" r="1.25" fill="#d2d2d2" />
<circle cx="166.08" cy="369.7" r="1.25" fill="#d2d2d2" />
<circle cx="166.08" cy="374.3" r="1.25" fill="#d2d2d2" />
<circle cx="166.08" cy="383.5" r="1.25" fill="#d2d2d2" />
<line x1="166.08" y1="355.9" x2="166.08" y2="378.9" stroke="#111" stroke-width="0.9" />
<circle cx="166.08" cy="355.9" r="1.45" fill="#111" />
<circle cx="166.08" cy="360.5" r="1.45" fill="#111" />
<circle cx="166.08" cy="365.1" r="1.45" fill="#111" />
<circle cx="166.08" cy="378.9" r="1.45" fill="#111" />
<circle cx="177.66" cy="351.3" r="1.25" fill="#d2d2d2" />
<circle cx="177.66" cy="355.9" r="1.25" fill="#d2d2d2" />
<circle cx="177.66" cy="369.7" r="1.25" fill="#d2d2d2" />
<circle cx="177.66" cy="374.3" r="1.25" fill="#d2d2d2" />
<line x1="177.66" y1="360.5" x2="177.66" y2="383.5" stroke="#111" stroke-width="0.9" />
<circle cx="177.66" cy="360.5" r="1.45" fill="#111" />
<circle cx="177.66" cy="365.1" r="1.45" fill="#111" />
<circle cx="177.66" cy="378.9" r="1.45" fill="#111" />
<circle cx="177.66" cy="383.5" r="1.45" fill="#111" />
<circle cx="189.24" cy="351.3" r="1.25" fill="#d2d2d2" />
<circle cx="189.24" cy="355.9" r="1.25" fill="#d2d2d2" />
<circle cx="189.24" cy="374.3" r="1.25" fill="#d2d2d2" />
<circle cx="189.24" cy="378.9" r="1.25" fill="#d2d2d2" />
<circle cx="189.24" cy="383.5" r="1.25" fill="#d2d2d2" />
<line x1="189.24" y1="360.5" x2="189.24" y2="369.7" stroke="#111" stroke-width="0.9" />
<circle cx="189.24" cy="360.5" r="1.45" fill="#111" />
<circle cx="189.24" cy="365.1" r="1.45" fill="#111" />
<circle cx="189.24" cy="369.7" r="1.45" fill="#111" />
<circle cx="200.82" cy="351.3" r="1.25" fill="#d2d2d2" />
<circle cx="200.82" cy="355.9" r="1.25" fill="#d2d2d2" />
<circle cx="200.82" cy="374.3" r="1.25" fill="#d2d2d2" />
<circle cx="200.82" cy="383.5" r="1.25" fill="#d2d2d2" />
<line x1="200.82" y1="360.5" x2="200.82" y2="378.9" stroke="#111" stroke-width="0.9" />
<circle cx="200.82" cy="360.5" r="1.45" fill="#111" />
<circle cx="200.82" cy="365.1" r="1.45" fill="#111" />
<circle cx="200.82" cy="369.7" r="1.45" fill="#111" />
<circle cx="200.82" cy="378.9" r="1.45" fill="#111" />
<circle cx="212.4" cy="351.3" r="1.25" fill="#d2d2d2" />
<circle cx="212.4" cy="369.7" r="1.25" fill="#d2d2d2" />
<circle cx="212.4" cy="374.3" r="1.25" fill="#d2d2d2" />
<line x1="212.4" y1="355.9" x2="212.4" y2="383.5" stroke="#111" stroke-width="0.9" />
<circle cx="212.4" cy="355.9" r="1.45" fill="#111" />
<circle cx="212.4" cy="360.5" r="1.45" fill="#111" />
<circle cx="212.4" cy="365.1" r="1.45" fill="#111" />
<circle cx="212.4" cy="378.9" r="1.45" fill="#111" />
<circle cx="212.4" cy="383.5" r="1.45" fill="#111" />
<circle cx="223.98" cy="351.3" r="1.25" fill="#d2d2d2" />
<circle cx="223.98" cy="365.1" r="1.25" fill="#d2d2d2" />
<circle cx="223.98" cy="369.7" r="1.25" fill="#d2d2d2" />
<circle cx="223.98" cy="374.3" r="1.25" fill="#d2d2d2" />
<circle cx="223.98" cy="383.5" r="1.25" fill="#d2d2d2" />
<line x1="223.98" y1="355.9" x2="223.98" y2="378.9" stroke="#111" stroke-width="0.9" />
<circle cx="223.98" cy="355.9" r="1.45" fill="#111" />
<circle cx="223.98" cy="360.5" r="1.45" fill="#111" />
<circle cx="223.98" cy="378.9" r="1.45" fill="#111" />
<circle cx="235.56" cy="351.3" r="1.25" fill="#d2d2d2" />
<circle cx="235.56" cy="374.3" r="1.25" fill="#d2d2d2" />
<line x1="235.56" y1="355.9" x2="235.56" y2="383.5" stroke="#111" stroke-width="0.9" />
<circle cx="235.56" cy="355.9" r="1.45" fill="#111" />
<circle cx="235.56" cy="360.5" r="1.45" fill="#111" />
<circle cx="235.56" cy="365.1" r="1.45" fill="#111" />
<circle cx="235.56" cy="369.7" r="1.45" fill="#111" />
<circle cx="235.56" cy="378.9" r="1.45" fill="#111" />
<circle cx="235.56" cy="383.5" r="1.45" fill="#111" />
<circle cx="247.14" cy="351.3" r="1.25" fill="#d2d2d2" />
<circle cx="247.14" cy="374.3" r="1.25" fill="#d2d2d2" />
<circle cx="247.14" cy="378.9" r="1.25" fill="#d2d2d2" />
<line x1="247.14" y1="355.9" x2="247.14" y2="383.5" stroke="#111" stroke-width="0.9" />
<circle cx="247.14" cy="355.9" r="1.45" fill="#111" />
<circle cx="247.14" cy="360.5" r="1.45" fill="#111" />
<circle cx="247.14" cy="365.1" r="1.45" fill="#111" />
<circle cx="247.14" cy="369.7" r="1.45" fill="#111" />
<circle cx="247.14" cy="383.5" r="1.45" fill="#111" />
<circle cx="258.72" cy="351.3" r="1.25" fill="#d2d2d2" />
<circle cx="258.72" cy="355.9" r="1.25" fill="#d2d2d2" />
<circle cx="258.72" cy="374.3" r="1.25" fill="#d2d2d2" />
<line x1="258.72" y1="360.5" x2="258.72" y2="383.5" stroke="#111" stroke-width="0.9" />
<circle cx="258.72" cy="360.5" r="1.45" fill="#111" />
<circle cx="258.72" cy="365.1" r="1.45" fill="#111" />
<circle cx="258.72" cy="369.7" r="1.45" fill="#111" />
<circle cx="258.72" cy="378.9" r="1.45" fill="#111" />
<circle cx="258.72" cy="383.5" r="1.45" fill="#111" />
<rect x="418.2" y="218.4" width="70.8" height="149" fill="#fff"/>
<line x1="420.35" y1="218.4" x2="420.35" y2="367.4" stroke="#ebebeb" stroke-width="0.3" />
<line x1="440.45" y1="218.4" x2="440.45" y2="367.4" stroke="#ebebeb" stroke-width="0.3" />
<line x1="460.55" y1="218.4" x2="460.55" y2="367.4" stroke="#ebebeb" stroke-width="0.3" />
<line x1="480.65" y1="218.4" x2="480.65" y2="367.4" stroke="#ebebeb" stroke-width="0.3" />
<line x1="430.4" y1="218.4" x2="430.4" y2="367.4" stroke="#ebebeb" stroke-width="0.6" />
<line x1="450.5" y1="218.4" x2="450.5" y2="367.4" stroke="#ebebeb" stroke-width="0.6" />
<line x1="470.6" y1="218.4" x2="470.6" y2="367.4" stroke="#ebebeb" stroke-width="0.6" />
<line x1="418.2" y1="225.3" x2="489" y2="225.3" stroke="#ebebeb" stroke-width="0.6" />
<line x1="418.2" y1="232.35" x2="489" y2="232.35" stroke="#ebebeb" stroke-width="0.6" />
<line x1="418.2" y1="239.4" x2="489" y2="239.4" stroke="#ebebeb" stroke-width="0.6" />
<line x1="418.2" y1="246.45" x2="489" y2="246.45" stroke="#ebebeb" stroke-width="0.6" />
<line x1="418.2" y1="253.5" x2="489" y2="253.5" stroke="#ebebeb" stroke-width="0.6" />
<line x1="418.2" y1="260.55" x2="489" y2="260.55" stroke="#ebebeb" stroke-width="0.6" />
<line x1="418.2" y1="267.6" x2="489" y2="267.6" stroke="#ebebeb" stroke-width="0.6" />
<line x1="418.2" y1="274.65" x2="489" y2="274.65" stroke="#ebebeb" stroke-width="0.6" />
<line x1="418.2" y1="281.7" x2="489" y2="281.7" stroke="#ebebeb" stroke-width="0.6" />
<line x1="418.2" y1="288.75" x2="489" y2="288.75" stroke="#ebebeb" stroke-width="0.6" />
<line x1="418.2" y1="295.8" x2="489" y2="295.8" stroke="#ebebeb" stroke-width="0.6" />
<line x1="418.2" y1="302.85" x2="489" y2="302.85" stroke="#ebebeb" stroke-width="0.6" />
<line x1="418.2" y1="309.9" x2="489" y2="309.9" stroke="#ebebeb" stroke-width="0.6" />
<line x1="418.2" y1="316.95" x2="489" y2="316.95" stroke="#ebebeb" stroke-width="0.6" />
<line x1="418.2" y1="324" x2="489" y2="324" stroke="#ebebeb" stroke-width="0.6" />
<line x1="418.2" y1="331.05" x2="489" y2="331.05" stroke="#ebebeb" stroke-width="0.6" />
<line x1="418.2" y1="338.1" x2="489" y2="338.1" stroke="#ebebeb" stroke-width="0.6" />
<line x1="418.2" y1="345.15" x2="489" y2="345.15" stroke="#ebebeb" stroke-width="0.6" />
<line x1="418.2" y1="352.2" x2="489" y2="352.2" stroke="#ebebeb" stroke-width="0.6" />
<line x1="418.2" y1="359.25" x2="489" y2="359.25" stroke="#ebebeb" stroke-width="0.6" />
<circle cx="453" cy="225.3" r="1.7" fill="#1f6fbf" />
<circle cx="435.7" cy="232.35" r="2.2" fill="#9a9aa0" />
<circle cx="454" cy="239.4" r="1.7" fill="#d8b890" />
<circle cx="435.7" cy="246.45" r="2.3" fill="#f5603a" />
<circle cx="463.3" cy="253.5" r="1.6" fill="#ee2a22" />
<circle cx="466" cy="260.55" r="1.6" fill="#ee2a22" />
<circle cx="467.9" cy="267.6" r="1.6" fill="#ee2a22" />
<circle cx="435.2" cy="274.65" r="2.4" fill="#f02c22" />
<circle cx="443.8" cy="281.7" r="2" fill="#f02c22" />
<circle cx="441.7" cy="288.75" r="2" fill="#f02c22" />
<circle cx="444.8" cy="295.8" r="2" fill="#f02c22" />
<circle cx="443.4" cy="302.85" r="2" fill="#f02c22" />
<circle cx="434.1" cy="309.9" r="2.8" fill="#f02c22" />
<circle cx="428.8" cy="316.95" r="4.6" fill="#f02c22" />
<circle cx="442" cy="324" r="2.2" fill="#f02c22" />
<circle cx="468.5" cy="331.05" r="1.7" fill="#f02c22" />
<circle cx="428.1" cy="338.1" r="4.9" fill="#f02c22" />
<circle cx="432.5" cy="345.15" r="3.6" fill="#f02c22" />
<circle cx="479.8" cy="352.2" r="1.7" fill="#f02c22" />
<circle cx="443.75" cy="359.25" r="2.4" fill="#f02c22" />
<rect x="418.2" y="218.4" width="70.8" height="149" fill="none" stroke="#b0b0b0" stroke-width="0.8"/>
<line x1="416.2" y1="225.3" x2="418.2" y2="225.3" stroke="#555" stroke-width="0.5" />
<text x="415.9" y="227.55" font-family="Liberation Sans" font-size="6.3" fill="#111" text-anchor="end" font-weight="bold" >response to water</text>
<line x1="416.2" y1="232.35" x2="418.2" y2="232.35" stroke="#555" stroke-width="0.5" />
<text x="415.9" y="234.6" font-family="Liberation Sans" font-size="6.3" fill="#111" text-anchor="end" font-weight="bold" >response to oxygen−containing compound</text>
<line x1="416.2" y1="239.4" x2="418.2" y2="239.4" stroke="#555" stroke-width="0.5" />
<text x="415.9" y="241.65" font-family="Liberation Sans" font-size="6.3" fill="#111" text-anchor="end" font-weight="bold" >response to water deprivation</text>
<line x1="416.2" y1="246.45" x2="418.2" y2="246.45" stroke="#555" stroke-width="0.5" />
<text x="415.9" y="248.7" font-family="Liberation Sans" font-size="6.3" fill="#111" text-anchor="end" font-weight="bold" >response to endogenous stimulus</text>
<line x1="416.2" y1="253.5" x2="418.2" y2="253.5" stroke="#555" stroke-width="0.5" />
<text x="415.9" y="255.75" font-family="Liberation Sans" font-size="6.3" fill="#111" text-anchor="end" font-weight="bold" >coenzyme metabolic process</text>
<line x1="416.2" y1="260.55" x2="418.2" y2="260.55" stroke="#555" stroke-width="0.5" />
<text x="415.9" y="262.8" font-family="Liberation Sans" font-size="6.3" fill="#111" text-anchor="end" font-weight="bold" >response to cytokinin</text>
<line x1="416.2" y1="267.6" x2="418.2" y2="267.6" stroke="#555" stroke-width="0.5" />
<text x="415.9" y="269.85" font-family="Liberation Sans" font-size="6.3" fill="#111" text-anchor="end" font-weight="bold" >cofactor biosynthetic process</text>
<line x1="416.2" y1="274.65" x2="418.2" y2="274.65" stroke="#555" stroke-width="0.5" />
<text x="415.9" y="276.9" font-family="Liberation Sans" font-size="6.3" fill="#111" text-anchor="end" font-weight="bold" >response to organic substance</text>
<line x1="416.2" y1="281.7" x2="418.2" y2="281.7" stroke="#555" stroke-width="0.5" />
<text x="415.9" y="283.95" font-family="Liberation Sans" font-size="6.3" fill="#111" text-anchor="end" font-weight="bold" >response to inorganic substance</text>
<line x1="416.2" y1="288.75" x2="418.2" y2="288.75" stroke="#555" stroke-width="0.5" />
<text x="415.9" y="291" font-family="Liberation Sans" font-size="6.3" fill="#111" text-anchor="end" font-weight="bold" >organic acid metabolic process</text>
<line x1="416.2" y1="295.8" x2="418.2" y2="295.8" stroke="#555" stroke-width="0.5" />
<text x="415.9" y="298.05" font-family="Liberation Sans" font-size="6.3" fill="#111" text-anchor="end" font-weight="bold" >carboxylic acid metabolic process</text>
<line x1="416.2" y1="302.85" x2="418.2" y2="302.85" stroke="#555" stroke-width="0.5" />
<text x="415.9" y="305.1" font-family="Liberation Sans" font-size="6.3" fill="#111" text-anchor="end" font-weight="bold" >oxoacid metabolic process</text>
<line x1="416.2" y1="309.9" x2="418.2" y2="309.9" stroke="#555" stroke-width="0.5" />
<text x="415.9" y="312.15" font-family="Liberation Sans" font-size="6.3" fill="#111" text-anchor="end" font-weight="bold" >response to stress</text>
<line x1="416.2" y1="316.95" x2="418.2" y2="316.95" stroke="#555" stroke-width="0.5" />
<text x="415.9" y="319.2" font-family="Liberation Sans" font-size="6.3" fill="#111" text-anchor="end" font-weight="bold" >cellular metabolic process</text>
<line x1="416.2" y1="324" x2="418.2" y2="324" stroke="#555" stroke-width="0.5" />
<text x="415.9" y="326.25" font-family="Liberation Sans" font-size="6.3" fill="#111" text-anchor="end" font-weight="bold" >oxidation−reduction process</text>
<line x1="416.2" y1="331.05" x2="418.2" y2="331.05" stroke="#555" stroke-width="0.5" />
<text x="415.9" y="333.3" font-family="Liberation Sans" font-size="6.3" fill="#111" text-anchor="end" font-weight="bold" >cofactor metabolic process</text>
<line x1="416.2" y1="338.1" x2="418.2" y2="338.1" stroke="#555" stroke-width="0.5" />
<text x="415.9" y="340.35" font-family="Liberation Sans" font-size="6.3" fill="#111" text-anchor="end" font-weight="bold" >metabolic process</text>
<line x1="416.2" y1="345.15" x2="418.2" y2="345.15" stroke="#555" stroke-width="0.5" />
<text x="415.9" y="347.4" font-family="Liberation Sans" font-size="6.3" fill="#111" text-anchor="end" font-weight="bold" >response to stimulus</text>
<line x1="416.2" y1="352.2" x2="418.2" y2="352.2" stroke="#555" stroke-width="0.5" />
<text x="415.9" y="354.45" font-family="Liberation Sans" font-size="6.3" fill="#111" text-anchor="end" font-weight="bold" >generation of precursor metabolites and energy</text>
<line x1="416.2" y1="359.25" x2="418.2" y2="359.25" stroke="#555" stroke-width="0.5" />
<text x="415.9" y="361.5" font-family="Liberation Sans" font-size="6.3" fill="#111" text-anchor="end" font-weight="bold" >response to abiotic stimulus</text>
<line x1="430.4" y1="367.4" x2="430.4" y2="369.4" stroke="#555" stroke-width="0.5" />
<text x="430.4" y="374.1" font-family="Liberation Sans" font-size="5.5" fill="#222" text-anchor="middle" font-weight="bold" >0.05</text>
<line x1="450.5" y1="367.4" x2="450.5" y2="369.4" stroke="#555" stroke-width="0.5" />
<text x="450.5" y="374.1" font-family="Liberation Sans" font-size="5.5" fill="#222" text-anchor="middle" font-weight="bold" >0.10</text>
<line x1="470.6" y1="367.4" x2="470.6" y2="369.4" stroke="#555" stroke-width="0.5" />
<text x="470.6" y="374.1" font-family="Liberation Sans" font-size="5.5" fill="#222" text-anchor="middle" font-weight="bold" >0.15</text>
<text x="454" y="387.4" font-family="Liberation Sans" font-size="7.9" fill="#111" text-anchor="middle" font-weight="bold" >Rich Factor</text>
<text x="453.9" y="209.1" font-family="Liberation Sans" font-size="7.9" fill="#111" text-anchor="middle" font-weight="bold" >Drought DEG GO Enrichment</text>
<text x="497.3" y="236.7" font-family="Liberation Sans" font-size="6.2" fill="#111" text-anchor="start" font-weight="bold" >Gene Number</text>
<circle cx="503.7" cy="248.4" r="1.7" fill="#000" />
<text x="512.9" y="250.7" font-family="Liberation Sans" font-size="6.7" fill="#111" text-anchor="start" font-weight="bold" >100</text>
<circle cx="503.7" cy="255.7" r="2.3" fill="#000" />
<text x="512.9" y="258" font-family="Liberation Sans" font-size="6.7" fill="#111" text-anchor="start" font-weight="bold" >200</text>
<circle cx="503.7" cy="264.1" r="3.1" fill="#000" />
<text x="512.9" y="266.4" font-family="Liberation Sans" font-size="6.7" fill="#111" text-anchor="start" font-weight="bold" >300</text>
<circle cx="503.7" cy="274.7" r="4" fill="#000" />
<text x="512.9" y="277" font-family="Liberation Sans" font-size="6.7" fill="#111" text-anchor="start" font-weight="bold" >400</text>
<circle cx="503.7" cy="286.9" r="4.8" fill="#000" />
<text x="512.9" y="289.2" font-family="Liberation Sans" font-size="6.7" fill="#111" text-anchor="start" font-weight="bold" >500</text>
<text x="496.8" y="308.2" font-family="Liberation Sans" font-size="6.2" fill="#111" text-anchor="start" font-weight="bold" >FDR</text>
<defs><linearGradient id="fdr" x1="0" y1="0" x2="0" y2="1"><stop offset="0" stop-color="#2a6db8"/><stop offset="0.3" stop-color="#a8a4b0"/><stop offset="0.5" stop-color="#fcd08a"/><stop offset="0.75" stop-color="#f88a4a"/><stop offset="1" stop-color="#f52a1a"/></linearGradient></defs>
<rect x="496.8" y="315.5" width="7.2" height="36.2" fill="url(#fdr)" />
<text x="507.4" y="319" font-family="Liberation Sans" font-size="6.6" fill="#111" text-anchor="start" font-weight="bold" >1.00E-06</text>
<text x="507.4" y="336.5" font-family="Liberation Sans" font-size="6.6" fill="#111" text-anchor="start" font-weight="bold" >5.00E-07</text>
<text x="507.4" y="354.6" font-family="Liberation Sans" font-size="6.6" fill="#111" text-anchor="start" font-weight="bold" >3.40E-22</text>
</svg>
</body></html>
